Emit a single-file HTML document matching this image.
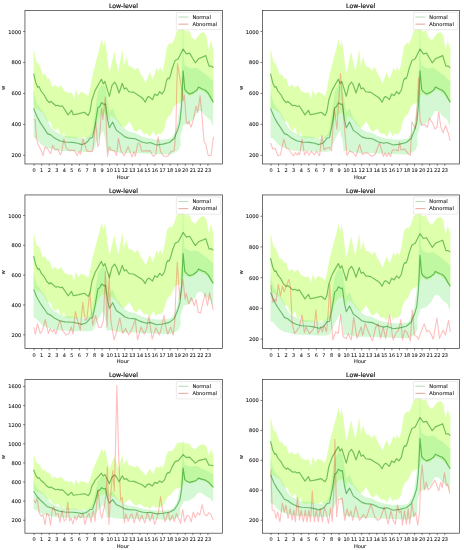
<!DOCTYPE html>
<html><head><meta charset="utf-8"><title>Low-level</title>
<style>html,body{margin:0;padding:0;background:#fff}svg{display:block}</style></head>
<body>
<svg width="464" height="550" viewBox="0 0 464 550">
<rect width="464" height="550" fill="#fff"/>
<g>
<clipPath id="c1"><rect x="24.95" y="10.45" width="197.65" height="153.52"/></clipPath>
<g clip-path="url(#c1)">
<path d="M33.6 48.4 L36.5 62.0 L39.0 64.0 L39.7 66.0 L43.0 75.0 L44.9 73.9 L47.5 78.8 L49.4 78.2 L52.0 87.2 L54.6 84.6 L57.8 87.8 L61.0 85.0 L64.3 91.0 L68.8 93.0 L72.0 92.4 L74.0 99.5 L75.9 89.8 L78.5 95.6 L81.0 91.7 L85.6 93.7 L88.2 96.2 L90.0 89.0 L92.6 74.9 L96.5 59.4 L99.7 47.8 L101.6 39.0 L103.6 46.5 L104.9 39.5 L106.8 52.9 L109.4 73.6 L112.0 62.0 L114.3 51.6 L116.5 63.3 L118.4 71.7 L121.0 56.8 L122.3 48.4 L123.9 65.9 L126.2 56.8 L128.8 66.5 L131.4 66.5 L135.3 70.4 L137.6 66.9 L140.7 73.8 L143.4 78.5 L145.7 83.2 L147.6 77.7 L149.8 71.9 L152.7 79.7 L154.6 73.8 L156.6 67.6 L158.5 71.5 L160.2 66.9 L162.4 71.5 L163.9 65.3 L165.4 56.8 L167.0 46.9 L169.5 42.8 L171.9 43.7 L174.4 38.7 L176.9 30.6 L180.1 29.7 L182.9 28.5 L185.9 31.4 L189.1 30.6 L191.6 37.1 L194.9 40.4 L197.3 37.1 L200.6 33.0 L203.9 32.2 L206.3 35.5 L208.8 50.2 L210.8 40.4 L212.9 48.6 L213.5 47.0 L213.4 104.0 L211.4 101.0 L208.2 95.5 L203.3 91.5 L198.5 89.5 L193.6 94.5 L189.6 96.0 L186.4 94.0 L184.8 92.0 L182.5 100.0 L179.9 103.0 L176.7 103.7 L174.2 106.2 L171.0 114.2 L168.6 115.9 L166.2 120.7 L163.7 130.4 L160.5 134.4 L158.1 133.6 L155.7 136.0 L153.2 130.4 L150.0 136.9 L146.9 133.4 L144.3 134.3 L139.8 128.4 L136.6 131.7 L134.0 130.4 L129.4 121.3 L125.6 126.5 L123.6 127.8 L119.7 124.6 L115.9 119.4 L110.7 115.5 L109.4 122.0 L107.5 117.0 L105.0 113.0 L101.6 114.0 L97.8 120.0 L95.2 128.0 L92.6 135.0 L90.0 136.2 L86.9 138.8 L83.7 136.6 L81.7 138.8 L79.1 137.5 L74.6 138.8 L72.7 137.5 L68.8 138.8 L64.9 136.9 L63.9 131.0 L63.0 134.9 L60.4 134.3 L57.8 127.2 L55.9 131.0 L52.6 127.8 L50.7 122.0 L46.8 120.7 L42.9 112.9 L36.5 109.0 L33.6 108.0Z" fill="#adff2f" fill-opacity="0.4"/>
<path d="M33.6 90.0 L35.0 97.0 L37.1 104.0 L40.3 108.0 L44.2 113.0 L47.5 120.0 L50.7 127.0 L54.6 131.0 L59.7 134.0 L64.9 136.0 L72.7 136.5 L77.8 137.5 L81.7 138.5 L85.6 138.5 L90.0 135.0 L92.6 130.0 L95.2 110.0 L97.8 92.0 L99.7 88.0 L101.6 85.0 L104.2 86.0 L105.5 87.0 L107.5 100.0 L109.4 112.0 L112.6 108.0 L116.5 118.0 L121.0 124.0 L124.9 129.0 L128.8 131.5 L135.3 133.0 L141.7 136.5 L146.9 138.0 L150.0 138.5 L156.5 139.5 L162.9 139.5 L166.2 139.3 L171.0 138.5 L174.2 133.6 L176.7 127.2 L179.1 111.0 L180.7 98.0 L182.2 60.0 L183.0 17.5 L183.9 60.0 L184.8 65.3 L190.4 68.5 L196.9 67.7 L201.7 71.7 L206.6 75.0 L213.4 81.4 L213.1 126.5 L210.4 120.0 L205.5 115.9 L201.4 110.9 L198.1 110.9 L194.1 118.3 L189.2 123.3 L183.5 125.0 L180.2 136.5 L180.7 145.0 L178.3 150.6 L174.2 153.0 L171.0 154.5 L160.0 154.3 L150.0 153.7 L141.7 153.5 L135.3 153.0 L128.8 153.0 L122.3 153.3 L115.9 152.0 L109.4 150.5 L106.8 151.7 L105.5 140.0 L102.9 130.4 L97.8 140.0 L93.2 150.4 L92.6 151.0 L90.0 151.7 L81.7 151.7 L75.3 151.6 L68.8 151.3 L62.3 151.0 L55.9 150.4 L51.3 149.0 L46.8 147.8 L42.9 145.9 L39.7 142.7 L36.5 138.8 L33.6 137.5Z" fill="#90ee90" fill-opacity="0.4"/>
<path d="M33.6 73.6 L35.8 82.7 L37.8 87.2 L39.0 86.5 L41.0 91.0 L44.2 95.0 L46.8 100.0 L49.4 102.6 L50.7 101.3 L55.9 105.8 L57.8 105.2 L60.4 106.5 L62.3 105.8 L68.1 114.9 L71.6 110.3 L73.3 114.8 L79.1 113.6 L84.3 112.3 L88.2 115.5 L90.0 111.6 L91.9 100.0 L95.2 90.4 L99.1 83.3 L101.4 79.2 L103.3 84.0 L104.9 81.4 L109.4 96.3 L112.0 85.3 L114.6 82.0 L116.5 85.3 L119.1 93.0 L122.3 83.3 L124.3 89.1 L126.2 87.8 L128.8 91.7 L134.0 92.4 L137.8 95.0 L141.7 97.5 L143.5 99.5 L145.2 102.2 L147.0 98.0 L148.5 96.5 L150.0 97.3 L152.4 99.7 L154.8 94.0 L157.3 95.7 L159.7 91.6 L162.1 94.0 L164.5 90.0 L166.6 80.5 L168.0 78.1 L169.0 78.9 L170.5 75.4 L172.0 69.2 L175.1 60.4 L178.3 58.8 L183.1 49.1 L186.4 53.9 L189.6 53.1 L195.3 62.8 L198.5 58.8 L205.8 55.6 L209.0 66.1 L211.4 66.1 L213.4 67.7" fill="none" stroke="#008000" stroke-opacity="0.5" stroke-width="1.15" stroke-linejoin="round"/>
<path d="M33.6 108.4 L37.1 116.8 L40.3 122.6 L44.2 128.4 L47.5 133.6 L50.7 134.9 L54.6 138.1 L59.7 140.7 L64.9 142.0 L72.7 142.4 L77.8 143.3 L81.7 144.6 L85.6 143.3 L88.0 141.0 L90.0 138.1 L92.6 137.5 L95.2 124.6 L97.8 107.8 L99.7 106.5 L101.6 102.6 L104.2 104.5 L105.5 103.9 L107.5 119.4 L109.4 127.8 L112.6 122.0 L116.5 130.4 L121.0 133.6 L124.9 136.9 L128.8 138.1 L135.3 138.8 L141.7 142.0 L146.9 143.3 L150.0 142.5 L156.5 145.0 L162.9 144.1 L169.4 142.5 L174.2 138.5 L177.5 130.4 L179.9 122.3 L181.5 106.2 L182.3 90.0 L183.1 70.9 L184.8 89.5 L186.4 91.6 L189.6 94.0 L193.6 92.4 L196.9 90.0 L198.5 87.1 L203.3 89.5 L205.0 90.0 L208.2 93.2 L211.4 98.9 L213.4 102.1" fill="none" stroke="#008000" stroke-opacity="0.5" stroke-width="1.15" stroke-linejoin="round"/>
<path d="M33.6 119.4 L35.2 120.0 L36.5 138.8 L38.4 145.3 L41.0 149.8 L42.9 155.6 L44.9 147.2 L46.8 147.8 L50.7 153.7 L52.6 145.3 L55.2 149.8 L57.8 149.1 L60.4 155.0 L61.7 151.7 L63.9 138.8 L66.2 147.8 L68.8 150.4 L74.6 150.4 L77.2 155.6 L79.1 151.1 L80.4 154.3 L82.8 138.8 L85.0 145.3 L86.9 151.1 L90.0 151.7 L92.6 151.1 L95.8 122.0 L97.8 146.6 L99.1 144.0 L101.6 108.4 L102.9 119.4 L105.3 97.0 L107.5 156.3 L109.4 146.6 L110.7 149.8 L114.6 151.0 L116.5 155.6 L118.4 138.1 L121.0 151.0 L124.3 155.6 L128.1 146.6 L132.0 156.9 L134.0 151.7 L135.3 156.3 L137.8 143.3 L139.8 144.0 L141.7 151.0 L150.0 150.6 L153.2 156.3 L155.7 154.6 L158.1 136.9 L160.5 151.4 L163.7 156.3 L167.8 156.3 L170.2 152.2 L174.2 150.6 L175.9 130.4 L176.7 90.0 L177.5 63.6 L182.3 93.2 L183.1 101.3 L184.3 94.8 L186.4 122.3 L188.0 124.0 L188.8 121.5 L191.2 127.2 L193.6 118.3 L196.1 106.2 L197.7 112.6 L200.1 95.7 L201.7 112.6 L204.1 141.7 L205.8 144.1 L208.2 155.5 L211.1 155.5 L213.4 136.9" fill="none" stroke="#ff0000" stroke-opacity="0.25" stroke-width="1.1" stroke-linejoin="round"/>
</g>
<rect x="24.95" y="10.45" width="197.65" height="153.52" fill="none" stroke="#333" stroke-width="0.7"/>
<line x1="34.10" x2="34.10" y1="163.97" y2="165.87" stroke="#222" stroke-width="0.55"/>
<text x="34.10" y="172.07" font-size="4.95" text-anchor="middle" fill="#1a1a1a" stroke="#1a1a1a" stroke-width="0.08" font-family="DejaVu Sans, Liberation Sans, sans-serif">0</text>
<line x1="41.66" x2="41.66" y1="163.97" y2="165.87" stroke="#222" stroke-width="0.55"/>
<text x="41.66" y="172.07" font-size="4.95" text-anchor="middle" fill="#1a1a1a" stroke="#1a1a1a" stroke-width="0.08" font-family="DejaVu Sans, Liberation Sans, sans-serif">1</text>
<line x1="49.21" x2="49.21" y1="163.97" y2="165.87" stroke="#222" stroke-width="0.55"/>
<text x="49.21" y="172.07" font-size="4.95" text-anchor="middle" fill="#1a1a1a" stroke="#1a1a1a" stroke-width="0.08" font-family="DejaVu Sans, Liberation Sans, sans-serif">2</text>
<line x1="56.77" x2="56.77" y1="163.97" y2="165.87" stroke="#222" stroke-width="0.55"/>
<text x="56.77" y="172.07" font-size="4.95" text-anchor="middle" fill="#1a1a1a" stroke="#1a1a1a" stroke-width="0.08" font-family="DejaVu Sans, Liberation Sans, sans-serif">3</text>
<line x1="64.33" x2="64.33" y1="163.97" y2="165.87" stroke="#222" stroke-width="0.55"/>
<text x="64.33" y="172.07" font-size="4.95" text-anchor="middle" fill="#1a1a1a" stroke="#1a1a1a" stroke-width="0.08" font-family="DejaVu Sans, Liberation Sans, sans-serif">4</text>
<line x1="71.89" x2="71.89" y1="163.97" y2="165.87" stroke="#222" stroke-width="0.55"/>
<text x="71.89" y="172.07" font-size="4.95" text-anchor="middle" fill="#1a1a1a" stroke="#1a1a1a" stroke-width="0.08" font-family="DejaVu Sans, Liberation Sans, sans-serif">5</text>
<line x1="79.44" x2="79.44" y1="163.97" y2="165.87" stroke="#222" stroke-width="0.55"/>
<text x="79.44" y="172.07" font-size="4.95" text-anchor="middle" fill="#1a1a1a" stroke="#1a1a1a" stroke-width="0.08" font-family="DejaVu Sans, Liberation Sans, sans-serif">6</text>
<line x1="87.00" x2="87.00" y1="163.97" y2="165.87" stroke="#222" stroke-width="0.55"/>
<text x="87.00" y="172.07" font-size="4.95" text-anchor="middle" fill="#1a1a1a" stroke="#1a1a1a" stroke-width="0.08" font-family="DejaVu Sans, Liberation Sans, sans-serif">7</text>
<line x1="94.56" x2="94.56" y1="163.97" y2="165.87" stroke="#222" stroke-width="0.55"/>
<text x="94.56" y="172.07" font-size="4.95" text-anchor="middle" fill="#1a1a1a" stroke="#1a1a1a" stroke-width="0.08" font-family="DejaVu Sans, Liberation Sans, sans-serif">8</text>
<line x1="102.11" x2="102.11" y1="163.97" y2="165.87" stroke="#222" stroke-width="0.55"/>
<text x="102.11" y="172.07" font-size="4.95" text-anchor="middle" fill="#1a1a1a" stroke="#1a1a1a" stroke-width="0.08" font-family="DejaVu Sans, Liberation Sans, sans-serif">9</text>
<line x1="109.67" x2="109.67" y1="163.97" y2="165.87" stroke="#222" stroke-width="0.55"/>
<text x="109.67" y="172.07" font-size="4.95" text-anchor="middle" fill="#1a1a1a" stroke="#1a1a1a" stroke-width="0.08" font-family="DejaVu Sans, Liberation Sans, sans-serif">10</text>
<line x1="117.23" x2="117.23" y1="163.97" y2="165.87" stroke="#222" stroke-width="0.55"/>
<text x="117.23" y="172.07" font-size="4.95" text-anchor="middle" fill="#1a1a1a" stroke="#1a1a1a" stroke-width="0.08" font-family="DejaVu Sans, Liberation Sans, sans-serif">11</text>
<line x1="124.78" x2="124.78" y1="163.97" y2="165.87" stroke="#222" stroke-width="0.55"/>
<text x="124.78" y="172.07" font-size="4.95" text-anchor="middle" fill="#1a1a1a" stroke="#1a1a1a" stroke-width="0.08" font-family="DejaVu Sans, Liberation Sans, sans-serif">12</text>
<line x1="132.34" x2="132.34" y1="163.97" y2="165.87" stroke="#222" stroke-width="0.55"/>
<text x="132.34" y="172.07" font-size="4.95" text-anchor="middle" fill="#1a1a1a" stroke="#1a1a1a" stroke-width="0.08" font-family="DejaVu Sans, Liberation Sans, sans-serif">13</text>
<line x1="139.90" x2="139.90" y1="163.97" y2="165.87" stroke="#222" stroke-width="0.55"/>
<text x="139.90" y="172.07" font-size="4.95" text-anchor="middle" fill="#1a1a1a" stroke="#1a1a1a" stroke-width="0.08" font-family="DejaVu Sans, Liberation Sans, sans-serif">14</text>
<line x1="147.46" x2="147.46" y1="163.97" y2="165.87" stroke="#222" stroke-width="0.55"/>
<text x="147.46" y="172.07" font-size="4.95" text-anchor="middle" fill="#1a1a1a" stroke="#1a1a1a" stroke-width="0.08" font-family="DejaVu Sans, Liberation Sans, sans-serif">15</text>
<line x1="155.01" x2="155.01" y1="163.97" y2="165.87" stroke="#222" stroke-width="0.55"/>
<text x="155.01" y="172.07" font-size="4.95" text-anchor="middle" fill="#1a1a1a" stroke="#1a1a1a" stroke-width="0.08" font-family="DejaVu Sans, Liberation Sans, sans-serif">16</text>
<line x1="162.57" x2="162.57" y1="163.97" y2="165.87" stroke="#222" stroke-width="0.55"/>
<text x="162.57" y="172.07" font-size="4.95" text-anchor="middle" fill="#1a1a1a" stroke="#1a1a1a" stroke-width="0.08" font-family="DejaVu Sans, Liberation Sans, sans-serif">17</text>
<line x1="170.13" x2="170.13" y1="163.97" y2="165.87" stroke="#222" stroke-width="0.55"/>
<text x="170.13" y="172.07" font-size="4.95" text-anchor="middle" fill="#1a1a1a" stroke="#1a1a1a" stroke-width="0.08" font-family="DejaVu Sans, Liberation Sans, sans-serif">18</text>
<line x1="177.68" x2="177.68" y1="163.97" y2="165.87" stroke="#222" stroke-width="0.55"/>
<text x="177.68" y="172.07" font-size="4.95" text-anchor="middle" fill="#1a1a1a" stroke="#1a1a1a" stroke-width="0.08" font-family="DejaVu Sans, Liberation Sans, sans-serif">19</text>
<line x1="185.24" x2="185.24" y1="163.97" y2="165.87" stroke="#222" stroke-width="0.55"/>
<text x="185.24" y="172.07" font-size="4.95" text-anchor="middle" fill="#1a1a1a" stroke="#1a1a1a" stroke-width="0.08" font-family="DejaVu Sans, Liberation Sans, sans-serif">20</text>
<line x1="192.80" x2="192.80" y1="163.97" y2="165.87" stroke="#222" stroke-width="0.55"/>
<text x="192.80" y="172.07" font-size="4.95" text-anchor="middle" fill="#1a1a1a" stroke="#1a1a1a" stroke-width="0.08" font-family="DejaVu Sans, Liberation Sans, sans-serif">21</text>
<line x1="200.35" x2="200.35" y1="163.97" y2="165.87" stroke="#222" stroke-width="0.55"/>
<text x="200.35" y="172.07" font-size="4.95" text-anchor="middle" fill="#1a1a1a" stroke="#1a1a1a" stroke-width="0.08" font-family="DejaVu Sans, Liberation Sans, sans-serif">22</text>
<line x1="207.91" x2="207.91" y1="163.97" y2="165.87" stroke="#222" stroke-width="0.55"/>
<text x="207.91" y="172.07" font-size="4.95" text-anchor="middle" fill="#1a1a1a" stroke="#1a1a1a" stroke-width="0.08" font-family="DejaVu Sans, Liberation Sans, sans-serif">23</text>
<line x1="23.05" x2="24.95" y1="155.35" y2="155.35" stroke="#222" stroke-width="0.55"/>
<text x="21.25" y="157.35" font-size="5.1" text-anchor="end" fill="#1a1a1a" stroke="#1a1a1a" stroke-width="0.1" font-family="DejaVu Sans, Liberation Sans, sans-serif">200</text>
<line x1="23.05" x2="24.95" y1="124.39" y2="124.39" stroke="#222" stroke-width="0.55"/>
<text x="21.25" y="126.39" font-size="5.1" text-anchor="end" fill="#1a1a1a" stroke="#1a1a1a" stroke-width="0.1" font-family="DejaVu Sans, Liberation Sans, sans-serif">400</text>
<line x1="23.05" x2="24.95" y1="93.43" y2="93.43" stroke="#222" stroke-width="0.55"/>
<text x="21.25" y="95.43" font-size="5.1" text-anchor="end" fill="#1a1a1a" stroke="#1a1a1a" stroke-width="0.1" font-family="DejaVu Sans, Liberation Sans, sans-serif">600</text>
<line x1="23.05" x2="24.95" y1="62.46" y2="62.46" stroke="#222" stroke-width="0.55"/>
<text x="21.25" y="64.46" font-size="5.1" text-anchor="end" fill="#1a1a1a" stroke="#1a1a1a" stroke-width="0.1" font-family="DejaVu Sans, Liberation Sans, sans-serif">800</text>
<line x1="23.05" x2="24.95" y1="31.50" y2="31.50" stroke="#222" stroke-width="0.55"/>
<text x="21.25" y="33.50" font-size="5.1" text-anchor="end" fill="#1a1a1a" stroke="#1a1a1a" stroke-width="0.1" font-family="DejaVu Sans, Liberation Sans, sans-serif">1000</text>
<text x="123.475" y="8.149999999999999" font-size="6.2" text-anchor="middle" fill="#1a1a1a" stroke="#1a1a1a" stroke-width="0.2" font-family="DejaVu Sans, Liberation Sans, sans-serif">Low-level</text>
<text x="122.87499999999999" y="178.87" font-size="5.1" text-anchor="middle" fill="#1a1a1a" stroke="#1a1a1a" stroke-width="0.1" font-family="DejaVu Sans, Liberation Sans, sans-serif">Hour</text>
<text transform="translate(5.149999999999999,87.91) rotate(-90)" font-size="5.1" text-anchor="middle" fill="#1a1a1a" stroke="#1a1a1a" stroke-width="0.1" font-family="DejaVu Sans, Liberation Sans, sans-serif">w</text>
<rect x="176.39999999999998" y="12.35" width="44.5" height="17.3" rx="1" fill="#fff" fill-opacity="0.8" stroke="#ccc" stroke-width="0.4"/>
<line x1="178.39999999999998" x2="188.39999999999998" y1="17.05" y2="17.05" stroke="#008000" stroke-opacity="0.32" stroke-width="0.9"/>
<line x1="178.39999999999998" x2="188.39999999999998" y1="24.15" y2="24.15" stroke="#c43c28" stroke-opacity="0.5" stroke-width="0.9"/>
<text x="192.39999999999998" y="18.75" font-size="5.1" fill="#1a1a1a" stroke="#1a1a1a" stroke-width="0.1" font-family="DejaVu Sans, Liberation Sans, sans-serif">Normal</text>
<text x="192.39999999999998" y="25.95" font-size="5.1" fill="#1a1a1a" stroke="#1a1a1a" stroke-width="0.1" font-family="DejaVu Sans, Liberation Sans, sans-serif">Abnormal</text>
</g>
<g>
<clipPath id="c2"><rect x="262.35" y="10.45" width="197.2" height="153.52"/></clipPath>
<g clip-path="url(#c2)">
<path d="M270.5 48.4 L273.4 62.0 L275.9 64.0 L276.6 66.0 L279.9 75.0 L281.8 73.9 L284.4 78.8 L286.3 78.2 L288.9 87.2 L291.5 84.6 L294.7 87.8 L297.9 85.0 L301.2 91.0 L305.7 93.0 L308.9 92.4 L310.9 99.5 L312.8 89.8 L315.4 95.6 L317.9 91.7 L322.5 93.7 L325.1 96.2 L326.9 89.0 L329.5 74.9 L333.4 59.4 L336.6 47.8 L338.5 39.0 L340.5 46.5 L341.8 39.5 L343.7 52.9 L346.3 73.6 L348.9 62.0 L351.2 51.6 L353.4 63.3 L355.3 71.7 L357.9 56.8 L359.2 48.4 L360.8 65.9 L363.1 56.8 L365.7 66.5 L368.3 66.5 L372.2 70.4 L374.5 66.9 L377.6 73.8 L380.3 78.5 L382.6 83.2 L384.5 77.7 L386.7 71.9 L389.6 79.7 L391.5 73.8 L393.5 67.6 L395.4 71.5 L397.1 66.9 L399.3 71.5 L400.8 65.3 L402.3 56.8 L403.9 46.9 L406.4 42.8 L408.8 43.7 L411.3 38.7 L413.8 30.6 L417.0 29.7 L419.8 28.5 L422.8 31.4 L426.0 30.6 L428.5 37.1 L431.8 40.4 L434.2 37.1 L437.5 33.0 L440.8 32.2 L443.2 35.5 L445.7 50.2 L447.7 40.4 L449.8 48.6 L450.4 47.0 L450.3 104.0 L448.3 101.0 L445.1 95.5 L440.2 91.5 L435.4 89.5 L430.5 94.5 L426.5 96.0 L423.3 94.0 L421.7 92.0 L419.4 100.0 L416.8 103.0 L413.6 103.7 L411.1 106.2 L407.9 114.2 L405.5 115.9 L403.1 120.7 L400.6 130.4 L397.4 134.4 L395.0 133.6 L392.6 136.0 L390.1 130.4 L386.9 136.9 L383.8 133.4 L381.2 134.3 L376.7 128.4 L373.5 131.7 L370.9 130.4 L366.3 121.3 L362.5 126.5 L360.5 127.8 L356.6 124.6 L352.8 119.4 L347.6 115.5 L346.3 122.0 L344.4 117.0 L341.9 113.0 L338.5 114.0 L334.7 120.0 L332.1 128.0 L329.5 135.0 L326.9 136.2 L323.8 138.8 L320.6 136.6 L318.6 138.8 L316.0 137.5 L311.5 138.8 L309.6 137.5 L305.7 138.8 L301.8 136.9 L300.8 131.0 L299.9 134.9 L297.3 134.3 L294.7 127.2 L292.8 131.0 L289.5 127.8 L287.6 122.0 L283.7 120.7 L279.8 112.9 L273.4 109.0 L270.5 108.0Z" fill="#adff2f" fill-opacity="0.4"/>
<path d="M270.5 90.0 L271.9 97.0 L274.0 104.0 L277.2 108.0 L281.1 113.0 L284.4 120.0 L287.6 127.0 L291.5 131.0 L296.6 134.0 L301.8 136.0 L309.6 136.5 L314.7 137.5 L318.6 138.5 L322.5 138.5 L326.9 135.0 L329.5 130.0 L332.1 110.0 L334.7 92.0 L336.6 88.0 L338.5 85.0 L341.1 86.0 L342.4 87.0 L344.4 100.0 L346.3 112.0 L349.5 108.0 L353.4 118.0 L357.9 124.0 L361.8 129.0 L365.7 131.5 L372.2 133.0 L378.6 136.5 L383.8 138.0 L386.9 138.5 L393.4 139.5 L399.8 139.5 L403.1 139.3 L407.9 138.5 L411.1 133.6 L413.6 127.2 L416.0 111.0 L417.6 98.0 L419.1 60.0 L419.9 17.5 L420.8 60.0 L421.7 65.3 L427.3 68.5 L433.8 67.7 L438.6 71.7 L443.5 75.0 L450.3 81.4 L450.0 126.5 L447.3 120.0 L442.4 115.9 L438.3 110.9 L435.0 110.9 L431.0 118.3 L426.1 123.3 L420.4 125.0 L417.1 136.5 L417.6 145.0 L415.2 150.6 L411.1 153.0 L407.9 154.5 L396.9 154.3 L386.9 153.7 L378.6 153.5 L372.2 153.0 L365.7 153.0 L359.2 153.3 L352.8 152.0 L346.3 150.5 L343.7 151.7 L342.4 140.0 L339.8 130.4 L334.7 140.0 L330.1 150.4 L329.5 151.0 L326.9 151.7 L318.6 151.7 L312.2 151.6 L305.7 151.3 L299.2 151.0 L292.8 150.4 L288.2 149.0 L283.7 147.8 L279.8 145.9 L276.6 142.7 L273.4 138.8 L270.5 137.5Z" fill="#90ee90" fill-opacity="0.4"/>
<path d="M270.5 73.6 L272.7 82.7 L274.7 87.2 L275.9 86.5 L277.9 91.0 L281.1 95.0 L283.7 100.0 L286.3 102.6 L287.6 101.3 L292.8 105.8 L294.7 105.2 L297.3 106.5 L299.2 105.8 L305.0 114.9 L308.5 110.3 L310.2 114.8 L316.0 113.6 L321.2 112.3 L325.1 115.5 L326.9 111.6 L328.8 100.0 L332.1 90.4 L336.0 83.3 L338.3 79.2 L340.2 84.0 L341.8 81.4 L346.3 96.3 L348.9 85.3 L351.5 82.0 L353.4 85.3 L356.0 93.0 L359.2 83.3 L361.2 89.1 L363.1 87.8 L365.7 91.7 L370.9 92.4 L374.7 95.0 L378.6 97.5 L380.4 99.5 L382.1 102.2 L383.9 98.0 L385.4 96.5 L386.9 97.3 L389.3 99.7 L391.7 94.0 L394.2 95.7 L396.6 91.6 L399.0 94.0 L401.4 90.0 L403.5 80.5 L404.9 78.1 L405.9 78.9 L407.4 75.4 L408.9 69.2 L412.0 60.4 L415.2 58.8 L420.0 49.1 L423.3 53.9 L426.5 53.1 L432.2 62.8 L435.4 58.8 L442.7 55.6 L445.9 66.1 L448.3 66.1 L450.3 67.7" fill="none" stroke="#008000" stroke-opacity="0.5" stroke-width="1.15" stroke-linejoin="round"/>
<path d="M270.5 108.4 L274.0 116.8 L277.2 122.6 L281.1 128.4 L284.4 133.6 L287.6 134.9 L291.5 138.1 L296.6 140.7 L301.8 142.0 L309.6 142.4 L314.7 143.3 L318.6 144.6 L322.5 143.3 L324.9 141.0 L326.9 138.1 L329.5 137.5 L332.1 124.6 L334.7 107.8 L336.6 106.5 L338.5 102.6 L341.1 104.5 L342.4 103.9 L344.4 119.4 L346.3 127.8 L349.5 122.0 L353.4 130.4 L357.9 133.6 L361.8 136.9 L365.7 138.1 L372.2 138.8 L378.6 142.0 L383.8 143.3 L386.9 142.5 L393.4 145.0 L399.8 144.1 L406.3 142.5 L411.1 138.5 L414.4 130.4 L416.8 122.3 L418.4 106.2 L419.2 90.0 L420.0 70.9 L421.7 89.5 L423.3 91.6 L426.5 94.0 L430.5 92.4 L433.8 90.0 L435.4 87.1 L440.2 89.5 L441.9 90.0 L445.1 93.2 L448.3 98.9 L450.3 102.1" fill="none" stroke="#008000" stroke-opacity="0.5" stroke-width="1.15" stroke-linejoin="round"/>
<path d="M270.5 143.0 L272.8 149.0 L275.0 148.3 L278.0 155.8 L280.3 155.0 L283.8 139.2 L286.4 148.3 L288.6 149.0 L293.2 155.8 L295.4 152.8 L296.9 155.0 L298.4 152.8 L299.6 155.0 L302.2 139.2 L304.5 155.0 L306.7 151.3 L309.0 155.0 L311.3 151.3 L314.3 155.0 L316.5 151.3 L319.6 155.8 L321.8 135.4 L324.1 149.8 L326.3 148.3 L329.6 147.3 L331.5 150.9 L334.2 108.2 L336.9 129.1 L340.5 73.6 L344.2 123.6 L346.9 155.5 L349.6 150.9 L353.3 152.7 L356.0 156.4 L359.6 144.5 L362.4 154.5 L365.1 152.7 L368.7 153.6 L371.5 156.4 L375.1 154.5 L379.6 142.7 L383.3 156.4 L385.1 152.7 L386.9 156.4 L388.7 152.7 L390.5 156.4 L392.4 150.0 L396.4 150.0 L398.2 150.9 L399.5 141.8 L400.9 150.0 L404.5 149.1 L408.2 153.6 L410.4 155.5 L411.8 121.8 L415.5 129.1 L417.3 105.5 L418.5 77.5 L420.0 120.0 L421.8 125.5 L424.5 124.5 L427.3 127.3 L429.6 118.2 L432.7 123.6 L435.1 129.1 L436.9 127.3 L438.7 111.8 L440.9 127.3 L443.1 132.7 L445.5 125.5 L448.2 132.7 L450.0 140.9" fill="none" stroke="#ff0000" stroke-opacity="0.25" stroke-width="1.1" stroke-linejoin="round"/>
</g>
<rect x="262.35" y="10.45" width="197.2" height="153.52" fill="none" stroke="#333" stroke-width="0.7"/>
<line x1="271.00" x2="271.00" y1="163.97" y2="165.87" stroke="#222" stroke-width="0.55"/>
<text x="271.00" y="172.07" font-size="4.95" text-anchor="middle" fill="#1a1a1a" stroke="#1a1a1a" stroke-width="0.08" font-family="DejaVu Sans, Liberation Sans, sans-serif">0</text>
<line x1="278.56" x2="278.56" y1="163.97" y2="165.87" stroke="#222" stroke-width="0.55"/>
<text x="278.56" y="172.07" font-size="4.95" text-anchor="middle" fill="#1a1a1a" stroke="#1a1a1a" stroke-width="0.08" font-family="DejaVu Sans, Liberation Sans, sans-serif">1</text>
<line x1="286.11" x2="286.11" y1="163.97" y2="165.87" stroke="#222" stroke-width="0.55"/>
<text x="286.11" y="172.07" font-size="4.95" text-anchor="middle" fill="#1a1a1a" stroke="#1a1a1a" stroke-width="0.08" font-family="DejaVu Sans, Liberation Sans, sans-serif">2</text>
<line x1="293.67" x2="293.67" y1="163.97" y2="165.87" stroke="#222" stroke-width="0.55"/>
<text x="293.67" y="172.07" font-size="4.95" text-anchor="middle" fill="#1a1a1a" stroke="#1a1a1a" stroke-width="0.08" font-family="DejaVu Sans, Liberation Sans, sans-serif">3</text>
<line x1="301.23" x2="301.23" y1="163.97" y2="165.87" stroke="#222" stroke-width="0.55"/>
<text x="301.23" y="172.07" font-size="4.95" text-anchor="middle" fill="#1a1a1a" stroke="#1a1a1a" stroke-width="0.08" font-family="DejaVu Sans, Liberation Sans, sans-serif">4</text>
<line x1="308.79" x2="308.79" y1="163.97" y2="165.87" stroke="#222" stroke-width="0.55"/>
<text x="308.79" y="172.07" font-size="4.95" text-anchor="middle" fill="#1a1a1a" stroke="#1a1a1a" stroke-width="0.08" font-family="DejaVu Sans, Liberation Sans, sans-serif">5</text>
<line x1="316.34" x2="316.34" y1="163.97" y2="165.87" stroke="#222" stroke-width="0.55"/>
<text x="316.34" y="172.07" font-size="4.95" text-anchor="middle" fill="#1a1a1a" stroke="#1a1a1a" stroke-width="0.08" font-family="DejaVu Sans, Liberation Sans, sans-serif">6</text>
<line x1="323.90" x2="323.90" y1="163.97" y2="165.87" stroke="#222" stroke-width="0.55"/>
<text x="323.90" y="172.07" font-size="4.95" text-anchor="middle" fill="#1a1a1a" stroke="#1a1a1a" stroke-width="0.08" font-family="DejaVu Sans, Liberation Sans, sans-serif">7</text>
<line x1="331.46" x2="331.46" y1="163.97" y2="165.87" stroke="#222" stroke-width="0.55"/>
<text x="331.46" y="172.07" font-size="4.95" text-anchor="middle" fill="#1a1a1a" stroke="#1a1a1a" stroke-width="0.08" font-family="DejaVu Sans, Liberation Sans, sans-serif">8</text>
<line x1="339.01" x2="339.01" y1="163.97" y2="165.87" stroke="#222" stroke-width="0.55"/>
<text x="339.01" y="172.07" font-size="4.95" text-anchor="middle" fill="#1a1a1a" stroke="#1a1a1a" stroke-width="0.08" font-family="DejaVu Sans, Liberation Sans, sans-serif">9</text>
<line x1="346.57" x2="346.57" y1="163.97" y2="165.87" stroke="#222" stroke-width="0.55"/>
<text x="346.57" y="172.07" font-size="4.95" text-anchor="middle" fill="#1a1a1a" stroke="#1a1a1a" stroke-width="0.08" font-family="DejaVu Sans, Liberation Sans, sans-serif">10</text>
<line x1="354.13" x2="354.13" y1="163.97" y2="165.87" stroke="#222" stroke-width="0.55"/>
<text x="354.13" y="172.07" font-size="4.95" text-anchor="middle" fill="#1a1a1a" stroke="#1a1a1a" stroke-width="0.08" font-family="DejaVu Sans, Liberation Sans, sans-serif">11</text>
<line x1="361.68" x2="361.68" y1="163.97" y2="165.87" stroke="#222" stroke-width="0.55"/>
<text x="361.68" y="172.07" font-size="4.95" text-anchor="middle" fill="#1a1a1a" stroke="#1a1a1a" stroke-width="0.08" font-family="DejaVu Sans, Liberation Sans, sans-serif">12</text>
<line x1="369.24" x2="369.24" y1="163.97" y2="165.87" stroke="#222" stroke-width="0.55"/>
<text x="369.24" y="172.07" font-size="4.95" text-anchor="middle" fill="#1a1a1a" stroke="#1a1a1a" stroke-width="0.08" font-family="DejaVu Sans, Liberation Sans, sans-serif">13</text>
<line x1="376.80" x2="376.80" y1="163.97" y2="165.87" stroke="#222" stroke-width="0.55"/>
<text x="376.80" y="172.07" font-size="4.95" text-anchor="middle" fill="#1a1a1a" stroke="#1a1a1a" stroke-width="0.08" font-family="DejaVu Sans, Liberation Sans, sans-serif">14</text>
<line x1="384.36" x2="384.36" y1="163.97" y2="165.87" stroke="#222" stroke-width="0.55"/>
<text x="384.36" y="172.07" font-size="4.95" text-anchor="middle" fill="#1a1a1a" stroke="#1a1a1a" stroke-width="0.08" font-family="DejaVu Sans, Liberation Sans, sans-serif">15</text>
<line x1="391.91" x2="391.91" y1="163.97" y2="165.87" stroke="#222" stroke-width="0.55"/>
<text x="391.91" y="172.07" font-size="4.95" text-anchor="middle" fill="#1a1a1a" stroke="#1a1a1a" stroke-width="0.08" font-family="DejaVu Sans, Liberation Sans, sans-serif">16</text>
<line x1="399.47" x2="399.47" y1="163.97" y2="165.87" stroke="#222" stroke-width="0.55"/>
<text x="399.47" y="172.07" font-size="4.95" text-anchor="middle" fill="#1a1a1a" stroke="#1a1a1a" stroke-width="0.08" font-family="DejaVu Sans, Liberation Sans, sans-serif">17</text>
<line x1="407.03" x2="407.03" y1="163.97" y2="165.87" stroke="#222" stroke-width="0.55"/>
<text x="407.03" y="172.07" font-size="4.95" text-anchor="middle" fill="#1a1a1a" stroke="#1a1a1a" stroke-width="0.08" font-family="DejaVu Sans, Liberation Sans, sans-serif">18</text>
<line x1="414.58" x2="414.58" y1="163.97" y2="165.87" stroke="#222" stroke-width="0.55"/>
<text x="414.58" y="172.07" font-size="4.95" text-anchor="middle" fill="#1a1a1a" stroke="#1a1a1a" stroke-width="0.08" font-family="DejaVu Sans, Liberation Sans, sans-serif">19</text>
<line x1="422.14" x2="422.14" y1="163.97" y2="165.87" stroke="#222" stroke-width="0.55"/>
<text x="422.14" y="172.07" font-size="4.95" text-anchor="middle" fill="#1a1a1a" stroke="#1a1a1a" stroke-width="0.08" font-family="DejaVu Sans, Liberation Sans, sans-serif">20</text>
<line x1="429.70" x2="429.70" y1="163.97" y2="165.87" stroke="#222" stroke-width="0.55"/>
<text x="429.70" y="172.07" font-size="4.95" text-anchor="middle" fill="#1a1a1a" stroke="#1a1a1a" stroke-width="0.08" font-family="DejaVu Sans, Liberation Sans, sans-serif">21</text>
<line x1="437.25" x2="437.25" y1="163.97" y2="165.87" stroke="#222" stroke-width="0.55"/>
<text x="437.25" y="172.07" font-size="4.95" text-anchor="middle" fill="#1a1a1a" stroke="#1a1a1a" stroke-width="0.08" font-family="DejaVu Sans, Liberation Sans, sans-serif">22</text>
<line x1="444.81" x2="444.81" y1="163.97" y2="165.87" stroke="#222" stroke-width="0.55"/>
<text x="444.81" y="172.07" font-size="4.95" text-anchor="middle" fill="#1a1a1a" stroke="#1a1a1a" stroke-width="0.08" font-family="DejaVu Sans, Liberation Sans, sans-serif">23</text>
<line x1="260.45000000000005" x2="262.35" y1="155.35" y2="155.35" stroke="#222" stroke-width="0.55"/>
<text x="258.65000000000003" y="157.35" font-size="5.1" text-anchor="end" fill="#1a1a1a" stroke="#1a1a1a" stroke-width="0.1" font-family="DejaVu Sans, Liberation Sans, sans-serif">200</text>
<line x1="260.45000000000005" x2="262.35" y1="124.39" y2="124.39" stroke="#222" stroke-width="0.55"/>
<text x="258.65000000000003" y="126.39" font-size="5.1" text-anchor="end" fill="#1a1a1a" stroke="#1a1a1a" stroke-width="0.1" font-family="DejaVu Sans, Liberation Sans, sans-serif">400</text>
<line x1="260.45000000000005" x2="262.35" y1="93.43" y2="93.43" stroke="#222" stroke-width="0.55"/>
<text x="258.65000000000003" y="95.43" font-size="5.1" text-anchor="end" fill="#1a1a1a" stroke="#1a1a1a" stroke-width="0.1" font-family="DejaVu Sans, Liberation Sans, sans-serif">600</text>
<line x1="260.45000000000005" x2="262.35" y1="62.46" y2="62.46" stroke="#222" stroke-width="0.55"/>
<text x="258.65000000000003" y="64.46" font-size="5.1" text-anchor="end" fill="#1a1a1a" stroke="#1a1a1a" stroke-width="0.1" font-family="DejaVu Sans, Liberation Sans, sans-serif">800</text>
<line x1="260.45000000000005" x2="262.35" y1="31.50" y2="31.50" stroke="#222" stroke-width="0.55"/>
<text x="258.65000000000003" y="33.50" font-size="5.1" text-anchor="end" fill="#1a1a1a" stroke="#1a1a1a" stroke-width="0.1" font-family="DejaVu Sans, Liberation Sans, sans-serif">1000</text>
<text x="360.65000000000003" y="8.149999999999999" font-size="6.2" text-anchor="middle" fill="#1a1a1a" stroke="#1a1a1a" stroke-width="0.2" font-family="DejaVu Sans, Liberation Sans, sans-serif">Low-level</text>
<text x="360.05000000000007" y="178.87" font-size="5.1" text-anchor="middle" fill="#1a1a1a" stroke="#1a1a1a" stroke-width="0.1" font-family="DejaVu Sans, Liberation Sans, sans-serif">Hour</text>
<text transform="translate(242.55,87.91) rotate(-90)" font-size="5.1" text-anchor="middle" fill="#1a1a1a" stroke="#1a1a1a" stroke-width="0.1" font-family="DejaVu Sans, Liberation Sans, sans-serif">w</text>
<rect x="413.35" y="12.35" width="44.5" height="17.3" rx="1" fill="#fff" fill-opacity="0.8" stroke="#ccc" stroke-width="0.4"/>
<line x1="415.35" x2="425.35" y1="17.05" y2="17.05" stroke="#008000" stroke-opacity="0.32" stroke-width="0.9"/>
<line x1="415.35" x2="425.35" y1="24.15" y2="24.15" stroke="#c43c28" stroke-opacity="0.5" stroke-width="0.9"/>
<text x="429.35" y="18.75" font-size="5.1" fill="#1a1a1a" stroke="#1a1a1a" stroke-width="0.1" font-family="DejaVu Sans, Liberation Sans, sans-serif">Normal</text>
<text x="429.35" y="25.95" font-size="5.1" fill="#1a1a1a" stroke="#1a1a1a" stroke-width="0.1" font-family="DejaVu Sans, Liberation Sans, sans-serif">Abnormal</text>
</g>
<g>
<clipPath id="c3"><rect x="24.95" y="194.95" width="197.65" height="153.45"/></clipPath>
<g clip-path="url(#c3)">
<path d="M33.6 231.8 L36.5 244.9 L39.0 246.8 L39.7 248.7 L43.0 257.4 L44.9 256.3 L47.5 261.1 L49.4 260.5 L52.0 269.2 L54.6 266.6 L57.8 269.7 L61.0 267.0 L64.3 272.8 L68.8 274.7 L72.0 274.2 L74.0 281.0 L75.9 271.7 L78.5 277.2 L81.0 273.5 L85.6 275.4 L88.2 277.8 L90.0 270.9 L92.6 257.3 L96.5 242.4 L99.7 231.2 L101.6 222.7 L103.6 229.9 L104.9 223.2 L106.8 236.1 L109.4 256.0 L112.0 244.9 L114.3 234.9 L116.5 246.1 L118.4 254.2 L121.0 239.9 L122.3 231.8 L123.9 248.6 L126.2 239.9 L128.8 249.2 L131.4 249.2 L135.3 253.0 L137.6 249.6 L140.7 256.2 L143.4 260.8 L145.7 265.3 L147.6 260.0 L149.8 254.4 L152.7 261.9 L154.6 256.2 L156.6 250.3 L158.5 254.0 L160.2 249.6 L162.4 254.0 L163.9 248.1 L165.4 239.9 L167.0 230.3 L169.5 226.4 L171.9 227.2 L174.4 222.4 L176.9 214.6 L180.1 213.8 L182.9 212.6 L185.9 215.4 L189.1 214.6 L191.6 220.9 L194.9 224.1 L197.3 220.9 L200.6 216.9 L203.9 216.2 L206.3 219.3 L208.8 233.5 L210.8 224.1 L212.9 232.0 L213.5 230.4 L213.4 285.3 L211.4 282.4 L208.2 277.1 L203.3 273.3 L198.5 271.4 L193.6 276.2 L189.6 277.6 L186.4 275.7 L184.8 273.8 L182.5 281.5 L179.9 284.4 L176.7 285.0 L174.2 287.5 L171.0 295.2 L168.6 296.8 L166.2 301.4 L163.7 310.8 L160.5 314.6 L158.1 313.8 L155.7 316.2 L153.2 310.8 L150.0 317.0 L146.9 313.7 L144.3 314.5 L139.8 308.8 L136.6 312.0 L134.0 310.8 L129.4 302.0 L125.6 307.0 L123.6 308.3 L119.7 305.2 L115.9 300.2 L110.7 296.4 L109.4 302.7 L107.5 297.9 L105.0 294.0 L101.6 295.0 L97.8 300.7 L95.2 308.5 L92.6 315.2 L90.0 316.4 L86.9 318.9 L83.7 316.7 L81.7 318.9 L79.1 317.6 L74.6 318.9 L72.7 317.6 L68.8 318.9 L64.9 317.0 L63.9 311.3 L63.0 315.1 L60.4 314.5 L57.8 307.7 L55.9 311.3 L52.6 308.3 L50.7 302.7 L46.8 301.4 L42.9 293.9 L36.5 290.2 L33.6 289.2Z" fill="#adff2f" fill-opacity="0.4"/>
<path d="M33.6 271.8 L35.0 278.6 L37.1 285.3 L40.3 289.2 L44.2 294.0 L47.5 300.7 L50.7 307.5 L54.6 311.3 L59.7 314.2 L64.9 316.2 L72.7 316.6 L77.8 317.6 L81.7 318.6 L85.6 318.6 L90.0 315.2 L92.6 310.4 L95.2 291.1 L97.8 273.8 L99.7 269.9 L101.6 267.0 L104.2 268.0 L105.5 269.0 L107.5 281.5 L109.4 293.0 L112.6 289.2 L116.5 298.8 L121.0 304.6 L124.9 309.4 L128.8 311.8 L135.3 313.3 L141.7 316.6 L146.9 318.1 L150.0 318.6 L156.5 319.5 L162.9 319.5 L166.2 319.3 L171.0 318.6 L174.2 313.8 L176.7 307.7 L179.1 292.1 L180.7 279.6 L182.2 242.9 L183.0 202.0 L183.9 242.9 L184.8 248.1 L190.4 251.1 L196.9 250.4 L201.7 254.2 L206.6 257.4 L213.4 263.6 L213.1 307.0 L210.4 300.7 L205.5 296.8 L201.4 292.0 L198.1 292.0 L194.1 299.1 L189.2 303.9 L183.5 305.6 L180.2 316.6 L180.7 324.8 L178.3 330.2 L174.2 332.5 L171.0 334.0 L160.0 333.8 L150.0 333.2 L141.7 333.0 L135.3 332.5 L128.8 332.5 L122.3 332.8 L115.9 331.6 L109.4 330.1 L106.8 331.3 L105.5 320.0 L102.9 310.8 L97.8 320.0 L93.2 330.0 L92.6 330.6 L90.0 331.3 L81.7 331.3 L75.3 331.2 L68.8 330.9 L62.3 330.6 L55.9 330.0 L51.3 328.7 L46.8 327.5 L42.9 325.7 L39.7 322.6 L36.5 318.9 L33.6 317.6Z" fill="#90ee90" fill-opacity="0.4"/>
<path d="M33.6 256.0 L35.8 264.8 L37.8 269.2 L39.0 268.5 L41.0 272.8 L44.2 276.7 L46.8 281.5 L49.4 284.0 L50.7 282.7 L55.9 287.1 L57.8 286.5 L60.4 287.7 L62.3 287.1 L68.1 295.8 L71.6 291.4 L73.3 295.7 L79.1 294.6 L84.3 293.3 L88.2 296.4 L90.0 292.7 L91.9 281.5 L95.2 272.2 L99.1 265.4 L101.4 261.4 L103.3 266.1 L104.9 263.6 L109.4 277.9 L112.0 267.3 L114.6 264.1 L116.5 267.3 L119.1 274.7 L122.3 265.4 L124.3 271.0 L126.2 269.7 L128.8 273.5 L134.0 274.2 L137.8 276.7 L141.7 279.1 L143.5 281.0 L145.2 283.6 L147.0 279.6 L148.5 278.1 L150.0 278.9 L152.4 281.2 L154.8 275.7 L157.3 277.3 L159.7 273.4 L162.1 275.7 L164.5 271.8 L166.6 262.7 L168.0 260.4 L169.0 261.2 L170.5 257.8 L172.0 251.8 L175.1 243.3 L178.3 241.8 L183.1 232.4 L186.4 237.1 L189.6 236.3 L195.3 245.6 L198.5 241.8 L205.8 238.7 L209.0 248.8 L211.4 248.8 L213.4 250.4" fill="none" stroke="#008000" stroke-opacity="0.5" stroke-width="1.15" stroke-linejoin="round"/>
<path d="M33.6 289.6 L37.1 297.7 L40.3 303.3 L44.2 308.8 L47.5 313.8 L50.7 315.1 L54.6 318.2 L59.7 320.7 L64.9 321.9 L72.7 322.3 L77.8 323.2 L81.7 324.4 L85.6 323.2 L88.0 321.0 L90.0 318.2 L92.6 317.6 L95.2 305.2 L97.8 289.0 L99.7 287.7 L101.6 284.0 L104.2 285.8 L105.5 285.2 L107.5 300.2 L109.4 308.3 L112.6 302.7 L116.5 310.8 L121.0 313.8 L124.9 317.0 L128.8 318.2 L135.3 318.9 L141.7 321.9 L146.9 323.2 L150.0 322.4 L156.5 324.8 L162.9 324.0 L169.4 322.4 L174.2 318.6 L177.5 310.8 L179.9 303.0 L181.5 287.5 L182.3 271.8 L183.1 253.4 L184.8 271.4 L186.4 273.4 L189.6 275.7 L193.6 274.2 L196.9 271.8 L198.5 269.1 L203.3 271.4 L205.0 271.8 L208.2 274.9 L211.4 280.4 L213.4 283.5" fill="none" stroke="#008000" stroke-opacity="0.5" stroke-width="1.15" stroke-linejoin="round"/>
<path d="M33.7 327.0 L35.4 334.3 L37.5 323.7 L40.3 333.5 L42.4 330.2 L45.2 319.6 L48.4 333.5 L50.1 328.6 L52.5 331.9 L54.2 329.4 L55.8 334.3 L58.3 325.3 L60.2 320.4 L62.3 330.2 L66.4 335.1 L68.9 333.5 L71.3 327.0 L73.0 334.3 L75.4 311.4 L77.9 322.0 L80.3 330.2 L82.8 302.4 L85.2 320.4 L86.9 318.8 L89.8 291.8 L92.6 325.3 L95.6 315.5 L98.5 327.0 L101.0 327.8 L103.4 320.4 L105.4 271.4 L107.0 327.0 L109.2 273.0 L110.8 320.4 L114.1 340.0 L116.5 331.9 L119.8 318.0 L122.7 333.5 L125.5 328.6 L128.8 335.1 L132.1 328.6 L135.3 319.6 L137.5 340.0 L141.1 327.0 L144.3 334.3 L146.8 327.8 L148.9 316.3 L152.2 339.2 L155.8 327.8 L159.3 335.1 L160.9 330.2 L163.9 315.5 L165.8 327.0 L167.8 334.3 L170.7 327.0 L173.2 335.1 L174.8 320.4 L176.0 287.7 L177.3 262.4 L178.9 287.7 L180.2 299.2 L183.0 279.5 L185.1 299.2 L186.3 293.4 L188.7 304.1 L191.2 297.5 L194.4 305.7 L196.1 299.2 L198.2 312.2 L200.5 313.1 L202.6 304.1 L205.1 293.4 L207.5 305.7 L209.6 292.6 L213.2 309.8" fill="none" stroke="#ff0000" stroke-opacity="0.25" stroke-width="1.1" stroke-linejoin="round"/>
</g>
<rect x="24.95" y="194.95" width="197.65" height="153.45" fill="none" stroke="#333" stroke-width="0.7"/>
<line x1="34.10" x2="34.10" y1="348.4" y2="350.29999999999995" stroke="#222" stroke-width="0.55"/>
<text x="34.10" y="356.5" font-size="4.95" text-anchor="middle" fill="#1a1a1a" stroke="#1a1a1a" stroke-width="0.08" font-family="DejaVu Sans, Liberation Sans, sans-serif">0</text>
<line x1="41.66" x2="41.66" y1="348.4" y2="350.29999999999995" stroke="#222" stroke-width="0.55"/>
<text x="41.66" y="356.5" font-size="4.95" text-anchor="middle" fill="#1a1a1a" stroke="#1a1a1a" stroke-width="0.08" font-family="DejaVu Sans, Liberation Sans, sans-serif">1</text>
<line x1="49.21" x2="49.21" y1="348.4" y2="350.29999999999995" stroke="#222" stroke-width="0.55"/>
<text x="49.21" y="356.5" font-size="4.95" text-anchor="middle" fill="#1a1a1a" stroke="#1a1a1a" stroke-width="0.08" font-family="DejaVu Sans, Liberation Sans, sans-serif">2</text>
<line x1="56.77" x2="56.77" y1="348.4" y2="350.29999999999995" stroke="#222" stroke-width="0.55"/>
<text x="56.77" y="356.5" font-size="4.95" text-anchor="middle" fill="#1a1a1a" stroke="#1a1a1a" stroke-width="0.08" font-family="DejaVu Sans, Liberation Sans, sans-serif">3</text>
<line x1="64.33" x2="64.33" y1="348.4" y2="350.29999999999995" stroke="#222" stroke-width="0.55"/>
<text x="64.33" y="356.5" font-size="4.95" text-anchor="middle" fill="#1a1a1a" stroke="#1a1a1a" stroke-width="0.08" font-family="DejaVu Sans, Liberation Sans, sans-serif">4</text>
<line x1="71.89" x2="71.89" y1="348.4" y2="350.29999999999995" stroke="#222" stroke-width="0.55"/>
<text x="71.89" y="356.5" font-size="4.95" text-anchor="middle" fill="#1a1a1a" stroke="#1a1a1a" stroke-width="0.08" font-family="DejaVu Sans, Liberation Sans, sans-serif">5</text>
<line x1="79.44" x2="79.44" y1="348.4" y2="350.29999999999995" stroke="#222" stroke-width="0.55"/>
<text x="79.44" y="356.5" font-size="4.95" text-anchor="middle" fill="#1a1a1a" stroke="#1a1a1a" stroke-width="0.08" font-family="DejaVu Sans, Liberation Sans, sans-serif">6</text>
<line x1="87.00" x2="87.00" y1="348.4" y2="350.29999999999995" stroke="#222" stroke-width="0.55"/>
<text x="87.00" y="356.5" font-size="4.95" text-anchor="middle" fill="#1a1a1a" stroke="#1a1a1a" stroke-width="0.08" font-family="DejaVu Sans, Liberation Sans, sans-serif">7</text>
<line x1="94.56" x2="94.56" y1="348.4" y2="350.29999999999995" stroke="#222" stroke-width="0.55"/>
<text x="94.56" y="356.5" font-size="4.95" text-anchor="middle" fill="#1a1a1a" stroke="#1a1a1a" stroke-width="0.08" font-family="DejaVu Sans, Liberation Sans, sans-serif">8</text>
<line x1="102.11" x2="102.11" y1="348.4" y2="350.29999999999995" stroke="#222" stroke-width="0.55"/>
<text x="102.11" y="356.5" font-size="4.95" text-anchor="middle" fill="#1a1a1a" stroke="#1a1a1a" stroke-width="0.08" font-family="DejaVu Sans, Liberation Sans, sans-serif">9</text>
<line x1="109.67" x2="109.67" y1="348.4" y2="350.29999999999995" stroke="#222" stroke-width="0.55"/>
<text x="109.67" y="356.5" font-size="4.95" text-anchor="middle" fill="#1a1a1a" stroke="#1a1a1a" stroke-width="0.08" font-family="DejaVu Sans, Liberation Sans, sans-serif">10</text>
<line x1="117.23" x2="117.23" y1="348.4" y2="350.29999999999995" stroke="#222" stroke-width="0.55"/>
<text x="117.23" y="356.5" font-size="4.95" text-anchor="middle" fill="#1a1a1a" stroke="#1a1a1a" stroke-width="0.08" font-family="DejaVu Sans, Liberation Sans, sans-serif">11</text>
<line x1="124.78" x2="124.78" y1="348.4" y2="350.29999999999995" stroke="#222" stroke-width="0.55"/>
<text x="124.78" y="356.5" font-size="4.95" text-anchor="middle" fill="#1a1a1a" stroke="#1a1a1a" stroke-width="0.08" font-family="DejaVu Sans, Liberation Sans, sans-serif">12</text>
<line x1="132.34" x2="132.34" y1="348.4" y2="350.29999999999995" stroke="#222" stroke-width="0.55"/>
<text x="132.34" y="356.5" font-size="4.95" text-anchor="middle" fill="#1a1a1a" stroke="#1a1a1a" stroke-width="0.08" font-family="DejaVu Sans, Liberation Sans, sans-serif">13</text>
<line x1="139.90" x2="139.90" y1="348.4" y2="350.29999999999995" stroke="#222" stroke-width="0.55"/>
<text x="139.90" y="356.5" font-size="4.95" text-anchor="middle" fill="#1a1a1a" stroke="#1a1a1a" stroke-width="0.08" font-family="DejaVu Sans, Liberation Sans, sans-serif">14</text>
<line x1="147.46" x2="147.46" y1="348.4" y2="350.29999999999995" stroke="#222" stroke-width="0.55"/>
<text x="147.46" y="356.5" font-size="4.95" text-anchor="middle" fill="#1a1a1a" stroke="#1a1a1a" stroke-width="0.08" font-family="DejaVu Sans, Liberation Sans, sans-serif">15</text>
<line x1="155.01" x2="155.01" y1="348.4" y2="350.29999999999995" stroke="#222" stroke-width="0.55"/>
<text x="155.01" y="356.5" font-size="4.95" text-anchor="middle" fill="#1a1a1a" stroke="#1a1a1a" stroke-width="0.08" font-family="DejaVu Sans, Liberation Sans, sans-serif">16</text>
<line x1="162.57" x2="162.57" y1="348.4" y2="350.29999999999995" stroke="#222" stroke-width="0.55"/>
<text x="162.57" y="356.5" font-size="4.95" text-anchor="middle" fill="#1a1a1a" stroke="#1a1a1a" stroke-width="0.08" font-family="DejaVu Sans, Liberation Sans, sans-serif">17</text>
<line x1="170.13" x2="170.13" y1="348.4" y2="350.29999999999995" stroke="#222" stroke-width="0.55"/>
<text x="170.13" y="356.5" font-size="4.95" text-anchor="middle" fill="#1a1a1a" stroke="#1a1a1a" stroke-width="0.08" font-family="DejaVu Sans, Liberation Sans, sans-serif">18</text>
<line x1="177.68" x2="177.68" y1="348.4" y2="350.29999999999995" stroke="#222" stroke-width="0.55"/>
<text x="177.68" y="356.5" font-size="4.95" text-anchor="middle" fill="#1a1a1a" stroke="#1a1a1a" stroke-width="0.08" font-family="DejaVu Sans, Liberation Sans, sans-serif">19</text>
<line x1="185.24" x2="185.24" y1="348.4" y2="350.29999999999995" stroke="#222" stroke-width="0.55"/>
<text x="185.24" y="356.5" font-size="4.95" text-anchor="middle" fill="#1a1a1a" stroke="#1a1a1a" stroke-width="0.08" font-family="DejaVu Sans, Liberation Sans, sans-serif">20</text>
<line x1="192.80" x2="192.80" y1="348.4" y2="350.29999999999995" stroke="#222" stroke-width="0.55"/>
<text x="192.80" y="356.5" font-size="4.95" text-anchor="middle" fill="#1a1a1a" stroke="#1a1a1a" stroke-width="0.08" font-family="DejaVu Sans, Liberation Sans, sans-serif">21</text>
<line x1="200.35" x2="200.35" y1="348.4" y2="350.29999999999995" stroke="#222" stroke-width="0.55"/>
<text x="200.35" y="356.5" font-size="4.95" text-anchor="middle" fill="#1a1a1a" stroke="#1a1a1a" stroke-width="0.08" font-family="DejaVu Sans, Liberation Sans, sans-serif">22</text>
<line x1="207.91" x2="207.91" y1="348.4" y2="350.29999999999995" stroke="#222" stroke-width="0.55"/>
<text x="207.91" y="356.5" font-size="4.95" text-anchor="middle" fill="#1a1a1a" stroke="#1a1a1a" stroke-width="0.08" font-family="DejaVu Sans, Liberation Sans, sans-serif">23</text>
<line x1="23.05" x2="24.95" y1="334.80" y2="334.80" stroke="#222" stroke-width="0.55"/>
<text x="21.25" y="336.80" font-size="5.1" text-anchor="end" fill="#1a1a1a" stroke="#1a1a1a" stroke-width="0.1" font-family="DejaVu Sans, Liberation Sans, sans-serif">200</text>
<line x1="23.05" x2="24.95" y1="304.97" y2="304.97" stroke="#222" stroke-width="0.55"/>
<text x="21.25" y="306.97" font-size="5.1" text-anchor="end" fill="#1a1a1a" stroke="#1a1a1a" stroke-width="0.1" font-family="DejaVu Sans, Liberation Sans, sans-serif">400</text>
<line x1="23.05" x2="24.95" y1="275.15" y2="275.15" stroke="#222" stroke-width="0.55"/>
<text x="21.25" y="277.15" font-size="5.1" text-anchor="end" fill="#1a1a1a" stroke="#1a1a1a" stroke-width="0.1" font-family="DejaVu Sans, Liberation Sans, sans-serif">600</text>
<line x1="23.05" x2="24.95" y1="245.32" y2="245.32" stroke="#222" stroke-width="0.55"/>
<text x="21.25" y="247.32" font-size="5.1" text-anchor="end" fill="#1a1a1a" stroke="#1a1a1a" stroke-width="0.1" font-family="DejaVu Sans, Liberation Sans, sans-serif">800</text>
<line x1="23.05" x2="24.95" y1="215.50" y2="215.50" stroke="#222" stroke-width="0.55"/>
<text x="21.25" y="217.50" font-size="5.1" text-anchor="end" fill="#1a1a1a" stroke="#1a1a1a" stroke-width="0.1" font-family="DejaVu Sans, Liberation Sans, sans-serif">1000</text>
<text x="123.475" y="192.64999999999998" font-size="6.2" text-anchor="middle" fill="#1a1a1a" stroke="#1a1a1a" stroke-width="0.2" font-family="DejaVu Sans, Liberation Sans, sans-serif">Low-level</text>
<text x="122.87499999999999" y="363.29999999999995" font-size="5.1" text-anchor="middle" fill="#1a1a1a" stroke="#1a1a1a" stroke-width="0.1" font-family="DejaVu Sans, Liberation Sans, sans-serif">Hour</text>
<text transform="translate(5.149999999999999,272.37499999999994) rotate(-90)" font-size="5.1" text-anchor="middle" fill="#1a1a1a" stroke="#1a1a1a" stroke-width="0.1" font-family="DejaVu Sans, Liberation Sans, sans-serif">w</text>
<rect x="176.39999999999998" y="196.85" width="44.5" height="17.3" rx="1" fill="#fff" fill-opacity="0.8" stroke="#ccc" stroke-width="0.4"/>
<line x1="178.39999999999998" x2="188.39999999999998" y1="201.54999999999998" y2="201.54999999999998" stroke="#008000" stroke-opacity="0.32" stroke-width="0.9"/>
<line x1="178.39999999999998" x2="188.39999999999998" y1="208.65" y2="208.65" stroke="#c43c28" stroke-opacity="0.5" stroke-width="0.9"/>
<text x="192.39999999999998" y="203.25" font-size="5.1" fill="#1a1a1a" stroke="#1a1a1a" stroke-width="0.1" font-family="DejaVu Sans, Liberation Sans, sans-serif">Normal</text>
<text x="192.39999999999998" y="210.45" font-size="5.1" fill="#1a1a1a" stroke="#1a1a1a" stroke-width="0.1" font-family="DejaVu Sans, Liberation Sans, sans-serif">Abnormal</text>
</g>
<g>
<clipPath id="c4"><rect x="262.35" y="194.95" width="197.2" height="153.45"/></clipPath>
<g clip-path="url(#c4)">
<path d="M270.5 233.0 L273.4 246.5 L275.9 248.5 L276.6 250.5 L279.9 259.4 L281.8 258.3 L284.4 263.1 L286.3 262.6 L288.9 271.5 L291.5 268.9 L294.7 272.1 L297.9 269.3 L301.2 275.2 L305.7 277.2 L308.9 276.6 L310.9 283.7 L312.8 274.0 L315.4 279.8 L317.9 275.9 L322.5 277.9 L325.1 280.4 L326.9 273.3 L329.5 259.3 L333.4 243.9 L336.6 232.4 L338.5 223.7 L340.5 231.1 L341.8 224.2 L343.7 237.5 L346.3 258.0 L348.9 246.5 L351.2 236.2 L353.4 247.8 L355.3 256.1 L357.9 241.3 L359.2 233.0 L360.8 250.4 L363.1 241.3 L365.7 251.0 L368.3 251.0 L372.2 254.8 L374.5 251.4 L377.6 258.2 L380.3 262.8 L382.6 267.5 L384.5 262.1 L386.7 256.3 L389.6 264.0 L391.5 258.2 L393.5 252.0 L395.4 255.9 L397.1 251.4 L399.3 255.9 L400.8 249.8 L402.3 241.3 L403.9 231.5 L406.4 227.5 L408.8 228.4 L411.3 223.4 L413.8 215.4 L417.0 214.5 L419.8 213.3 L422.8 216.2 L426.0 215.4 L428.5 221.8 L431.8 225.1 L434.2 221.8 L437.5 217.8 L440.8 217.0 L443.2 220.2 L445.7 234.8 L447.7 225.1 L449.8 233.2 L450.4 231.6 L450.3 288.1 L448.3 285.1 L445.1 279.7 L440.2 275.7 L435.4 273.7 L430.5 278.7 L426.5 280.2 L423.3 278.2 L421.7 276.2 L419.4 284.2 L416.8 287.1 L413.6 287.8 L411.1 290.3 L407.9 298.2 L405.5 299.9 L403.1 304.7 L400.6 314.3 L397.4 318.2 L395.0 317.4 L392.6 319.8 L390.1 314.3 L386.9 320.7 L383.8 317.2 L381.2 318.1 L376.7 312.3 L373.5 315.6 L370.9 314.3 L366.3 305.3 L362.5 310.4 L360.5 311.7 L356.6 308.5 L352.8 303.4 L347.6 299.5 L346.3 306.0 L344.4 301.0 L341.9 297.0 L338.5 298.0 L334.7 304.0 L332.1 311.9 L329.5 318.8 L326.9 320.0 L323.8 322.6 L320.6 320.4 L318.6 322.6 L316.0 321.3 L311.5 322.6 L309.6 321.3 L305.7 322.6 L301.8 320.7 L300.8 314.9 L299.9 318.7 L297.3 318.1 L294.7 311.1 L292.8 314.9 L289.5 311.7 L287.6 306.0 L283.7 304.7 L279.8 296.9 L273.4 293.1 L270.5 292.1Z" fill="#adff2f" fill-opacity="0.4"/>
<path d="M270.5 274.2 L271.9 281.2 L274.0 288.1 L277.2 292.1 L281.1 297.0 L284.4 304.0 L287.6 310.9 L291.5 314.9 L296.6 317.8 L301.8 319.8 L309.6 320.3 L314.7 321.3 L318.6 322.3 L322.5 322.3 L326.9 318.8 L329.5 313.9 L332.1 294.1 L334.7 276.2 L336.6 272.3 L338.5 269.3 L341.1 270.3 L342.4 271.3 L344.4 284.2 L346.3 296.0 L349.5 292.1 L353.4 302.0 L357.9 307.9 L361.8 312.9 L365.7 315.4 L372.2 316.9 L378.6 320.3 L383.8 321.8 L386.9 322.3 L393.4 323.3 L399.8 323.3 L403.1 323.1 L407.9 322.3 L411.1 317.4 L413.6 311.1 L416.0 295.1 L417.6 282.2 L419.1 244.5 L419.9 202.4 L420.8 244.5 L421.7 249.8 L427.3 252.9 L433.8 252.1 L438.6 256.1 L443.5 259.4 L450.3 265.7 L450.0 310.4 L447.3 304.0 L442.4 299.9 L438.3 295.0 L435.0 295.0 L431.0 302.3 L426.1 307.2 L420.4 308.9 L417.1 320.3 L417.6 328.7 L415.2 334.3 L411.1 336.7 L407.9 338.2 L396.9 338.0 L386.9 337.4 L378.6 337.2 L372.2 336.7 L365.7 336.7 L359.2 337.0 L352.8 335.7 L346.3 334.2 L343.7 335.4 L342.4 323.8 L339.8 314.3 L334.7 323.8 L330.1 334.1 L329.5 334.7 L326.9 335.4 L318.6 335.4 L312.2 335.3 L305.7 335.0 L299.2 334.7 L292.8 334.1 L288.2 332.7 L283.7 331.5 L279.8 329.6 L276.6 326.5 L273.4 322.6 L270.5 321.3Z" fill="#90ee90" fill-opacity="0.4"/>
<path d="M270.5 258.0 L272.7 267.0 L274.7 271.5 L275.9 270.8 L277.9 275.2 L281.1 279.2 L283.7 284.2 L286.3 286.7 L287.6 285.4 L292.8 289.9 L294.7 289.3 L297.3 290.6 L299.2 289.9 L305.0 298.9 L308.5 294.4 L310.2 298.8 L316.0 297.6 L321.2 296.3 L325.1 299.5 L326.9 295.6 L328.8 284.2 L332.1 274.6 L336.0 267.6 L338.3 263.5 L340.2 268.3 L341.8 265.7 L346.3 280.5 L348.9 269.6 L351.5 266.3 L353.4 269.6 L356.0 277.2 L359.2 267.6 L361.2 273.4 L363.1 272.1 L365.7 275.9 L370.9 276.6 L374.7 279.2 L378.6 281.7 L380.4 283.7 L382.1 286.3 L383.9 282.2 L385.4 280.7 L386.9 281.5 L389.3 283.9 L391.7 278.2 L394.2 279.9 L396.6 275.8 L399.0 278.2 L401.4 274.2 L403.5 264.8 L404.9 262.5 L405.9 263.2 L407.4 259.8 L408.9 253.6 L412.0 244.9 L415.2 243.3 L420.0 233.7 L423.3 238.5 L426.5 237.7 L432.2 247.3 L435.4 243.3 L442.7 240.2 L445.9 250.6 L448.3 250.6 L450.3 252.1" fill="none" stroke="#008000" stroke-opacity="0.5" stroke-width="1.15" stroke-linejoin="round"/>
<path d="M270.5 292.5 L274.0 300.8 L277.2 306.5 L281.1 312.3 L284.4 317.4 L287.6 318.7 L291.5 321.9 L296.6 324.5 L301.8 325.8 L309.6 326.2 L314.7 327.1 L318.6 328.3 L322.5 327.1 L324.9 324.8 L326.9 321.9 L329.5 321.3 L332.1 308.5 L334.7 291.9 L336.6 290.6 L338.5 286.7 L341.1 288.6 L342.4 288.0 L344.4 303.4 L346.3 311.7 L349.5 306.0 L353.4 314.3 L357.9 317.4 L361.8 320.7 L365.7 321.9 L372.2 322.6 L378.6 325.8 L383.8 327.1 L386.9 326.3 L393.4 328.7 L399.8 327.9 L406.3 326.3 L411.1 322.3 L414.4 314.3 L416.8 306.3 L418.4 290.3 L419.2 274.2 L420.0 255.3 L421.7 273.7 L423.3 275.8 L426.5 278.2 L430.5 276.6 L433.8 274.2 L435.4 271.4 L440.2 273.7 L441.9 274.2 L445.1 277.4 L448.3 283.1 L450.3 286.2" fill="none" stroke="#008000" stroke-opacity="0.5" stroke-width="1.15" stroke-linejoin="round"/>
<path d="M270.9 285.3 L272.9 302.4 L275.0 299.2 L276.1 301.6 L278.3 284.4 L280.4 295.9 L282.4 286.1 L284.3 291.8 L286.4 285.3 L288.9 279.5 L290.5 287.7 L292.2 323.7 L294.6 333.5 L297.1 330.2 L299.5 327.0 L302.0 314.7 L304.4 332.7 L306.1 327.0 L309.3 333.5 L312.6 330.2 L314.2 327.0 L315.9 309.8 L318.0 333.5 L320.8 327.0 L322.4 331.9 L324.1 325.3 L326.5 331.9 L328.2 312.2 L329.8 283.6 L331.2 320.4 L332.9 340.0 L335.7 331.9 L338.2 333.5 L340.6 314.7 L343.1 336.8 L346.4 338.4 L348.3 333.5 L351.3 340.0 L353.7 317.2 L357.0 338.4 L361.1 327.0 L362.7 335.1 L365.2 323.7 L368.4 331.9 L372.5 340.9 L375.8 327.0 L378.3 323.7 L380.4 338.4 L383.2 327.0 L385.6 338.4 L387.6 327.0 L389.7 314.7 L393.0 340.0 L396.5 331.9 L398.6 330.2 L400.9 319.6 L402.5 340.0 L404.6 330.2 L407.1 332.7 L410.4 340.9 L412.3 309.8 L414.4 335.1 L416.9 336.8 L418.5 339.2 L421.0 331.9 L424.3 323.7 L426.7 331.9 L428.3 330.2 L430.8 333.5 L433.3 339.2 L436.9 318.0 L439.5 338.4 L443.1 330.2 L445.5 335.1 L448.5 320.4 L450.4 331.9" fill="none" stroke="#ff0000" stroke-opacity="0.25" stroke-width="1.1" stroke-linejoin="round"/>
</g>
<rect x="262.35" y="194.95" width="197.2" height="153.45" fill="none" stroke="#333" stroke-width="0.7"/>
<line x1="271.00" x2="271.00" y1="348.4" y2="350.29999999999995" stroke="#222" stroke-width="0.55"/>
<text x="271.00" y="356.5" font-size="4.95" text-anchor="middle" fill="#1a1a1a" stroke="#1a1a1a" stroke-width="0.08" font-family="DejaVu Sans, Liberation Sans, sans-serif">0</text>
<line x1="278.56" x2="278.56" y1="348.4" y2="350.29999999999995" stroke="#222" stroke-width="0.55"/>
<text x="278.56" y="356.5" font-size="4.95" text-anchor="middle" fill="#1a1a1a" stroke="#1a1a1a" stroke-width="0.08" font-family="DejaVu Sans, Liberation Sans, sans-serif">1</text>
<line x1="286.11" x2="286.11" y1="348.4" y2="350.29999999999995" stroke="#222" stroke-width="0.55"/>
<text x="286.11" y="356.5" font-size="4.95" text-anchor="middle" fill="#1a1a1a" stroke="#1a1a1a" stroke-width="0.08" font-family="DejaVu Sans, Liberation Sans, sans-serif">2</text>
<line x1="293.67" x2="293.67" y1="348.4" y2="350.29999999999995" stroke="#222" stroke-width="0.55"/>
<text x="293.67" y="356.5" font-size="4.95" text-anchor="middle" fill="#1a1a1a" stroke="#1a1a1a" stroke-width="0.08" font-family="DejaVu Sans, Liberation Sans, sans-serif">3</text>
<line x1="301.23" x2="301.23" y1="348.4" y2="350.29999999999995" stroke="#222" stroke-width="0.55"/>
<text x="301.23" y="356.5" font-size="4.95" text-anchor="middle" fill="#1a1a1a" stroke="#1a1a1a" stroke-width="0.08" font-family="DejaVu Sans, Liberation Sans, sans-serif">4</text>
<line x1="308.79" x2="308.79" y1="348.4" y2="350.29999999999995" stroke="#222" stroke-width="0.55"/>
<text x="308.79" y="356.5" font-size="4.95" text-anchor="middle" fill="#1a1a1a" stroke="#1a1a1a" stroke-width="0.08" font-family="DejaVu Sans, Liberation Sans, sans-serif">5</text>
<line x1="316.34" x2="316.34" y1="348.4" y2="350.29999999999995" stroke="#222" stroke-width="0.55"/>
<text x="316.34" y="356.5" font-size="4.95" text-anchor="middle" fill="#1a1a1a" stroke="#1a1a1a" stroke-width="0.08" font-family="DejaVu Sans, Liberation Sans, sans-serif">6</text>
<line x1="323.90" x2="323.90" y1="348.4" y2="350.29999999999995" stroke="#222" stroke-width="0.55"/>
<text x="323.90" y="356.5" font-size="4.95" text-anchor="middle" fill="#1a1a1a" stroke="#1a1a1a" stroke-width="0.08" font-family="DejaVu Sans, Liberation Sans, sans-serif">7</text>
<line x1="331.46" x2="331.46" y1="348.4" y2="350.29999999999995" stroke="#222" stroke-width="0.55"/>
<text x="331.46" y="356.5" font-size="4.95" text-anchor="middle" fill="#1a1a1a" stroke="#1a1a1a" stroke-width="0.08" font-family="DejaVu Sans, Liberation Sans, sans-serif">8</text>
<line x1="339.01" x2="339.01" y1="348.4" y2="350.29999999999995" stroke="#222" stroke-width="0.55"/>
<text x="339.01" y="356.5" font-size="4.95" text-anchor="middle" fill="#1a1a1a" stroke="#1a1a1a" stroke-width="0.08" font-family="DejaVu Sans, Liberation Sans, sans-serif">9</text>
<line x1="346.57" x2="346.57" y1="348.4" y2="350.29999999999995" stroke="#222" stroke-width="0.55"/>
<text x="346.57" y="356.5" font-size="4.95" text-anchor="middle" fill="#1a1a1a" stroke="#1a1a1a" stroke-width="0.08" font-family="DejaVu Sans, Liberation Sans, sans-serif">10</text>
<line x1="354.13" x2="354.13" y1="348.4" y2="350.29999999999995" stroke="#222" stroke-width="0.55"/>
<text x="354.13" y="356.5" font-size="4.95" text-anchor="middle" fill="#1a1a1a" stroke="#1a1a1a" stroke-width="0.08" font-family="DejaVu Sans, Liberation Sans, sans-serif">11</text>
<line x1="361.68" x2="361.68" y1="348.4" y2="350.29999999999995" stroke="#222" stroke-width="0.55"/>
<text x="361.68" y="356.5" font-size="4.95" text-anchor="middle" fill="#1a1a1a" stroke="#1a1a1a" stroke-width="0.08" font-family="DejaVu Sans, Liberation Sans, sans-serif">12</text>
<line x1="369.24" x2="369.24" y1="348.4" y2="350.29999999999995" stroke="#222" stroke-width="0.55"/>
<text x="369.24" y="356.5" font-size="4.95" text-anchor="middle" fill="#1a1a1a" stroke="#1a1a1a" stroke-width="0.08" font-family="DejaVu Sans, Liberation Sans, sans-serif">13</text>
<line x1="376.80" x2="376.80" y1="348.4" y2="350.29999999999995" stroke="#222" stroke-width="0.55"/>
<text x="376.80" y="356.5" font-size="4.95" text-anchor="middle" fill="#1a1a1a" stroke="#1a1a1a" stroke-width="0.08" font-family="DejaVu Sans, Liberation Sans, sans-serif">14</text>
<line x1="384.36" x2="384.36" y1="348.4" y2="350.29999999999995" stroke="#222" stroke-width="0.55"/>
<text x="384.36" y="356.5" font-size="4.95" text-anchor="middle" fill="#1a1a1a" stroke="#1a1a1a" stroke-width="0.08" font-family="DejaVu Sans, Liberation Sans, sans-serif">15</text>
<line x1="391.91" x2="391.91" y1="348.4" y2="350.29999999999995" stroke="#222" stroke-width="0.55"/>
<text x="391.91" y="356.5" font-size="4.95" text-anchor="middle" fill="#1a1a1a" stroke="#1a1a1a" stroke-width="0.08" font-family="DejaVu Sans, Liberation Sans, sans-serif">16</text>
<line x1="399.47" x2="399.47" y1="348.4" y2="350.29999999999995" stroke="#222" stroke-width="0.55"/>
<text x="399.47" y="356.5" font-size="4.95" text-anchor="middle" fill="#1a1a1a" stroke="#1a1a1a" stroke-width="0.08" font-family="DejaVu Sans, Liberation Sans, sans-serif">17</text>
<line x1="407.03" x2="407.03" y1="348.4" y2="350.29999999999995" stroke="#222" stroke-width="0.55"/>
<text x="407.03" y="356.5" font-size="4.95" text-anchor="middle" fill="#1a1a1a" stroke="#1a1a1a" stroke-width="0.08" font-family="DejaVu Sans, Liberation Sans, sans-serif">18</text>
<line x1="414.58" x2="414.58" y1="348.4" y2="350.29999999999995" stroke="#222" stroke-width="0.55"/>
<text x="414.58" y="356.5" font-size="4.95" text-anchor="middle" fill="#1a1a1a" stroke="#1a1a1a" stroke-width="0.08" font-family="DejaVu Sans, Liberation Sans, sans-serif">19</text>
<line x1="422.14" x2="422.14" y1="348.4" y2="350.29999999999995" stroke="#222" stroke-width="0.55"/>
<text x="422.14" y="356.5" font-size="4.95" text-anchor="middle" fill="#1a1a1a" stroke="#1a1a1a" stroke-width="0.08" font-family="DejaVu Sans, Liberation Sans, sans-serif">20</text>
<line x1="429.70" x2="429.70" y1="348.4" y2="350.29999999999995" stroke="#222" stroke-width="0.55"/>
<text x="429.70" y="356.5" font-size="4.95" text-anchor="middle" fill="#1a1a1a" stroke="#1a1a1a" stroke-width="0.08" font-family="DejaVu Sans, Liberation Sans, sans-serif">21</text>
<line x1="437.25" x2="437.25" y1="348.4" y2="350.29999999999995" stroke="#222" stroke-width="0.55"/>
<text x="437.25" y="356.5" font-size="4.95" text-anchor="middle" fill="#1a1a1a" stroke="#1a1a1a" stroke-width="0.08" font-family="DejaVu Sans, Liberation Sans, sans-serif">22</text>
<line x1="444.81" x2="444.81" y1="348.4" y2="350.29999999999995" stroke="#222" stroke-width="0.55"/>
<text x="444.81" y="356.5" font-size="4.95" text-anchor="middle" fill="#1a1a1a" stroke="#1a1a1a" stroke-width="0.08" font-family="DejaVu Sans, Liberation Sans, sans-serif">23</text>
<line x1="260.45000000000005" x2="262.35" y1="339.00" y2="339.00" stroke="#222" stroke-width="0.55"/>
<text x="258.65000000000003" y="341.00" font-size="5.1" text-anchor="end" fill="#1a1a1a" stroke="#1a1a1a" stroke-width="0.1" font-family="DejaVu Sans, Liberation Sans, sans-serif">200</text>
<line x1="260.45000000000005" x2="262.35" y1="308.32" y2="308.32" stroke="#222" stroke-width="0.55"/>
<text x="258.65000000000003" y="310.32" font-size="5.1" text-anchor="end" fill="#1a1a1a" stroke="#1a1a1a" stroke-width="0.1" font-family="DejaVu Sans, Liberation Sans, sans-serif">400</text>
<line x1="260.45000000000005" x2="262.35" y1="277.64" y2="277.64" stroke="#222" stroke-width="0.55"/>
<text x="258.65000000000003" y="279.64" font-size="5.1" text-anchor="end" fill="#1a1a1a" stroke="#1a1a1a" stroke-width="0.1" font-family="DejaVu Sans, Liberation Sans, sans-serif">600</text>
<line x1="260.45000000000005" x2="262.35" y1="246.96" y2="246.96" stroke="#222" stroke-width="0.55"/>
<text x="258.65000000000003" y="248.96" font-size="5.1" text-anchor="end" fill="#1a1a1a" stroke="#1a1a1a" stroke-width="0.1" font-family="DejaVu Sans, Liberation Sans, sans-serif">800</text>
<line x1="260.45000000000005" x2="262.35" y1="216.28" y2="216.28" stroke="#222" stroke-width="0.55"/>
<text x="258.65000000000003" y="218.28" font-size="5.1" text-anchor="end" fill="#1a1a1a" stroke="#1a1a1a" stroke-width="0.1" font-family="DejaVu Sans, Liberation Sans, sans-serif">1000</text>
<text x="360.65000000000003" y="192.64999999999998" font-size="6.2" text-anchor="middle" fill="#1a1a1a" stroke="#1a1a1a" stroke-width="0.2" font-family="DejaVu Sans, Liberation Sans, sans-serif">Low-level</text>
<text x="360.05000000000007" y="363.29999999999995" font-size="5.1" text-anchor="middle" fill="#1a1a1a" stroke="#1a1a1a" stroke-width="0.1" font-family="DejaVu Sans, Liberation Sans, sans-serif">Hour</text>
<text transform="translate(242.55,272.37499999999994) rotate(-90)" font-size="5.1" text-anchor="middle" fill="#1a1a1a" stroke="#1a1a1a" stroke-width="0.1" font-family="DejaVu Sans, Liberation Sans, sans-serif">w</text>
<rect x="413.35" y="196.85" width="44.5" height="17.3" rx="1" fill="#fff" fill-opacity="0.8" stroke="#ccc" stroke-width="0.4"/>
<line x1="415.35" x2="425.35" y1="201.54999999999998" y2="201.54999999999998" stroke="#008000" stroke-opacity="0.32" stroke-width="0.9"/>
<line x1="415.35" x2="425.35" y1="208.65" y2="208.65" stroke="#c43c28" stroke-opacity="0.5" stroke-width="0.9"/>
<text x="429.35" y="203.25" font-size="5.1" fill="#1a1a1a" stroke="#1a1a1a" stroke-width="0.1" font-family="DejaVu Sans, Liberation Sans, sans-serif">Normal</text>
<text x="429.35" y="210.45" font-size="5.1" fill="#1a1a1a" stroke="#1a1a1a" stroke-width="0.1" font-family="DejaVu Sans, Liberation Sans, sans-serif">Abnormal</text>
</g>
<g>
<clipPath id="c5"><rect x="24.95" y="379.65" width="197.65" height="153.55000000000007"/></clipPath>
<g clip-path="url(#c5)">
<path d="M33.6 454.2 L36.5 462.6 L39.0 463.9 L39.7 465.1 L43.0 470.6 L44.9 470.0 L47.5 473.0 L49.4 472.6 L52.0 478.2 L54.6 476.6 L57.8 478.5 L61.0 476.8 L64.3 480.5 L68.8 481.8 L72.0 481.4 L74.0 485.8 L75.9 479.8 L78.5 483.4 L81.0 481.0 L85.6 482.2 L88.2 483.7 L90.0 479.3 L92.6 470.6 L96.5 461.0 L99.7 453.9 L101.6 448.4 L103.6 453.1 L104.9 448.7 L106.8 457.0 L109.4 469.8 L112.0 462.6 L114.3 456.2 L116.5 463.4 L118.4 468.6 L121.0 459.4 L122.3 454.2 L123.9 465.0 L126.2 459.4 L128.8 465.4 L131.4 465.4 L135.3 467.8 L137.6 465.6 L140.7 469.9 L143.4 472.8 L145.7 475.7 L147.6 472.3 L149.8 468.7 L152.7 473.5 L154.6 469.9 L156.6 466.1 L158.5 468.5 L160.2 465.6 L162.4 468.5 L163.9 464.7 L165.4 459.4 L167.0 453.3 L169.5 450.8 L171.9 451.3 L174.4 448.2 L176.9 443.2 L180.1 442.7 L182.9 441.9 L185.9 443.7 L189.1 443.2 L191.6 447.2 L194.9 449.3 L197.3 447.2 L200.6 444.7 L203.9 444.2 L206.3 446.3 L208.8 455.3 L210.8 449.3 L212.9 454.3 L213.5 453.4 L213.4 488.5 L211.4 486.7 L208.2 483.3 L203.3 480.8 L198.5 479.6 L193.6 482.7 L189.6 483.6 L186.4 482.4 L184.8 481.1 L182.5 486.1 L179.9 487.9 L176.7 488.4 L174.2 489.9 L171.0 494.8 L168.6 495.9 L166.2 498.9 L163.7 504.8 L160.5 507.3 L158.1 506.8 L155.7 508.3 L153.2 504.8 L150.0 508.9 L146.9 506.7 L144.3 507.3 L139.8 503.6 L136.6 505.6 L134.0 504.8 L129.4 499.2 L125.6 502.4 L123.6 503.2 L119.7 501.3 L115.9 498.1 L110.7 495.6 L109.4 499.7 L107.5 496.6 L105.0 494.1 L101.6 494.7 L97.8 498.4 L95.2 503.4 L92.6 507.7 L90.0 508.4 L86.9 510.0 L83.7 508.7 L81.7 510.0 L79.1 509.2 L74.6 510.0 L72.7 509.2 L68.8 510.0 L64.9 508.9 L63.9 505.2 L63.0 507.6 L60.4 507.3 L57.8 502.9 L55.9 505.2 L52.6 503.2 L50.7 499.7 L46.8 498.9 L42.9 494.0 L36.5 491.6 L33.6 491.0Z" fill="#adff2f" fill-opacity="0.4"/>
<path d="M33.6 479.9 L35.0 484.2 L37.1 488.5 L40.3 491.0 L44.2 494.1 L47.5 498.4 L50.7 502.7 L54.6 505.2 L59.7 507.1 L64.9 508.3 L72.7 508.6 L77.8 509.2 L81.7 509.8 L85.6 509.8 L90.0 507.7 L92.6 504.6 L95.2 492.3 L97.8 481.1 L99.7 478.7 L101.6 476.8 L104.2 477.4 L105.5 478.1 L107.5 486.1 L109.4 493.5 L112.6 491.0 L116.5 497.2 L121.0 500.9 L124.9 504.0 L128.8 505.5 L135.3 506.5 L141.7 508.6 L146.9 509.5 L150.0 509.8 L156.5 510.5 L162.9 510.5 L166.2 510.3 L171.0 509.8 L174.2 506.8 L176.7 502.9 L179.1 492.9 L180.7 484.8 L182.2 461.4 L183.0 435.2 L183.9 461.4 L184.8 464.7 L190.4 466.6 L196.9 466.1 L201.7 468.6 L206.6 470.6 L213.4 474.6 L213.1 502.4 L210.4 498.4 L205.5 495.9 L201.4 492.8 L198.1 492.8 L194.1 497.4 L189.2 500.5 L183.5 501.5 L180.2 508.6 L180.7 513.9 L178.3 517.3 L174.2 518.8 L171.0 519.7 L160.0 519.6 L150.0 519.2 L141.7 519.1 L135.3 518.8 L128.8 518.8 L122.3 519.0 L115.9 518.2 L109.4 517.3 L106.8 518.0 L105.5 510.8 L102.9 504.8 L97.8 510.8 L93.2 517.2 L92.6 517.6 L90.0 518.0 L81.7 518.0 L75.3 517.9 L68.8 517.7 L62.3 517.6 L55.9 517.2 L51.3 516.3 L46.8 515.6 L42.9 514.4 L39.7 512.4 L36.5 510.0 L33.6 509.2Z" fill="#90ee90" fill-opacity="0.4"/>
<path d="M33.6 469.8 L35.8 475.4 L37.8 478.2 L39.0 477.7 L41.0 480.5 L44.2 483.0 L46.8 486.1 L49.4 487.7 L50.7 486.9 L55.9 489.7 L57.8 489.3 L60.4 490.1 L62.3 489.7 L68.1 495.3 L71.6 492.4 L73.3 495.2 L79.1 494.5 L84.3 493.7 L88.2 495.6 L90.0 493.2 L91.9 486.1 L95.2 480.2 L99.1 475.8 L101.4 473.2 L103.3 476.2 L104.9 474.6 L109.4 483.8 L112.0 477.0 L114.6 475.0 L116.5 477.0 L119.1 481.8 L122.3 475.8 L124.3 479.4 L126.2 478.5 L128.8 481.0 L134.0 481.4 L137.8 483.0 L141.7 484.5 L143.5 485.8 L145.2 487.4 L147.0 484.8 L148.5 483.9 L150.0 484.4 L152.4 485.9 L154.8 482.4 L157.3 483.4 L159.7 480.9 L162.1 482.4 L164.5 479.9 L166.6 474.0 L168.0 472.6 L169.0 473.1 L170.5 470.9 L172.0 467.1 L175.1 461.6 L178.3 460.6 L183.1 454.7 L186.4 457.6 L189.6 457.1 L195.3 463.1 L198.5 460.6 L205.8 458.7 L209.0 465.2 L211.4 465.2 L213.4 466.1" fill="none" stroke="#008000" stroke-opacity="0.5" stroke-width="1.15" stroke-linejoin="round"/>
<path d="M33.6 491.3 L37.1 496.5 L40.3 500.0 L44.2 503.6 L47.5 506.8 L50.7 507.6 L54.6 509.6 L59.7 511.2 L64.9 512.0 L72.7 512.3 L77.8 512.8 L81.7 513.6 L85.6 512.8 L88.0 511.4 L90.0 509.6 L92.6 509.2 L95.2 501.3 L97.8 490.9 L99.7 490.1 L101.6 487.7 L104.2 488.9 L105.5 488.5 L107.5 498.1 L109.4 503.2 L112.6 499.7 L116.5 504.8 L121.0 506.8 L124.9 508.9 L128.8 509.6 L135.3 510.0 L141.7 512.0 L146.9 512.8 L150.0 512.3 L156.5 513.9 L162.9 513.3 L169.4 512.3 L174.2 509.8 L177.5 504.8 L179.9 499.8 L181.5 489.9 L182.3 479.9 L183.1 468.1 L184.8 479.6 L186.4 480.9 L189.6 482.4 L193.6 481.4 L196.9 479.9 L198.5 478.1 L203.3 479.6 L205.0 479.9 L208.2 481.9 L211.4 485.4 L213.4 487.4" fill="none" stroke="#008000" stroke-opacity="0.5" stroke-width="1.15" stroke-linejoin="round"/>
<path d="M33.7 500.5 L35.5 502.8 L37.1 498.3 L39.3 513.4 L41.6 516.4 L43.1 514.9 L44.9 524.7 L46.9 513.4 L48.8 514.9 L50.6 525.4 L52.1 510.3 L53.9 506.6 L55.9 514.9 L58.2 513.4 L60.0 522.4 L61.9 510.3 L64.2 520.9 L66.0 519.4 L67.7 502.0 L69.5 520.9 L71.0 517.9 L72.8 523.9 L74.8 516.4 L76.6 520.1 L78.5 514.9 L80.8 517.9 L83.1 513.4 L85.0 524.7 L87.1 516.4 L89.1 513.4 L91.1 522.4 L92.5 512.0 L93.5 510.8 L95.0 521.4 L98.0 489.7 L100.3 512.3 L101.8 518.4 L104.1 507.8 L105.9 495.7 L107.4 467.1 L108.9 524.4 L110.9 492.7 L112.8 470.8 L114.3 491.2 L115.3 455.0 L116.9 385.5 L118.6 455.0 L120.7 500.3 L122.2 497.2 L124.4 522.9 L125.9 513.8 L128.2 521.4 L130.5 515.3 L132.0 513.8 L134.2 522.9 L137.0 512.3 L139.5 521.4 L141.8 515.3 L144.8 522.9 L147.5 512.3 L150.1 521.4 L152.3 513.8 L154.6 524.4 L156.9 518.4 L158.5 512.0 L160.6 496.6 L162.5 510.3 L165.0 521.8 L166.6 516.9 L168.3 512.0 L169.9 521.0 L172.4 515.2 L174.3 521.8 L176.4 513.6 L178.6 518.5 L180.5 523.4 L182.7 509.5 L184.6 521.8 L187.1 515.2 L189.5 516.9 L191.2 521.8 L193.3 512.0 L195.3 517.7 L197.7 512.8 L199.8 515.2 L202.1 504.6 L204.2 513.6 L206.7 516.0 L208.7 512.8 L210.8 514.4 L213.2 520.1" fill="none" stroke="#ff0000" stroke-opacity="0.25" stroke-width="1.1" stroke-linejoin="round"/>
</g>
<rect x="24.95" y="379.65" width="197.65" height="153.55000000000007" fill="none" stroke="#333" stroke-width="0.7"/>
<line x1="34.10" x2="34.10" y1="533.2" y2="535.1" stroke="#222" stroke-width="0.55"/>
<text x="34.10" y="541.3000000000001" font-size="4.95" text-anchor="middle" fill="#1a1a1a" stroke="#1a1a1a" stroke-width="0.08" font-family="DejaVu Sans, Liberation Sans, sans-serif">0</text>
<line x1="41.66" x2="41.66" y1="533.2" y2="535.1" stroke="#222" stroke-width="0.55"/>
<text x="41.66" y="541.3000000000001" font-size="4.95" text-anchor="middle" fill="#1a1a1a" stroke="#1a1a1a" stroke-width="0.08" font-family="DejaVu Sans, Liberation Sans, sans-serif">1</text>
<line x1="49.21" x2="49.21" y1="533.2" y2="535.1" stroke="#222" stroke-width="0.55"/>
<text x="49.21" y="541.3000000000001" font-size="4.95" text-anchor="middle" fill="#1a1a1a" stroke="#1a1a1a" stroke-width="0.08" font-family="DejaVu Sans, Liberation Sans, sans-serif">2</text>
<line x1="56.77" x2="56.77" y1="533.2" y2="535.1" stroke="#222" stroke-width="0.55"/>
<text x="56.77" y="541.3000000000001" font-size="4.95" text-anchor="middle" fill="#1a1a1a" stroke="#1a1a1a" stroke-width="0.08" font-family="DejaVu Sans, Liberation Sans, sans-serif">3</text>
<line x1="64.33" x2="64.33" y1="533.2" y2="535.1" stroke="#222" stroke-width="0.55"/>
<text x="64.33" y="541.3000000000001" font-size="4.95" text-anchor="middle" fill="#1a1a1a" stroke="#1a1a1a" stroke-width="0.08" font-family="DejaVu Sans, Liberation Sans, sans-serif">4</text>
<line x1="71.89" x2="71.89" y1="533.2" y2="535.1" stroke="#222" stroke-width="0.55"/>
<text x="71.89" y="541.3000000000001" font-size="4.95" text-anchor="middle" fill="#1a1a1a" stroke="#1a1a1a" stroke-width="0.08" font-family="DejaVu Sans, Liberation Sans, sans-serif">5</text>
<line x1="79.44" x2="79.44" y1="533.2" y2="535.1" stroke="#222" stroke-width="0.55"/>
<text x="79.44" y="541.3000000000001" font-size="4.95" text-anchor="middle" fill="#1a1a1a" stroke="#1a1a1a" stroke-width="0.08" font-family="DejaVu Sans, Liberation Sans, sans-serif">6</text>
<line x1="87.00" x2="87.00" y1="533.2" y2="535.1" stroke="#222" stroke-width="0.55"/>
<text x="87.00" y="541.3000000000001" font-size="4.95" text-anchor="middle" fill="#1a1a1a" stroke="#1a1a1a" stroke-width="0.08" font-family="DejaVu Sans, Liberation Sans, sans-serif">7</text>
<line x1="94.56" x2="94.56" y1="533.2" y2="535.1" stroke="#222" stroke-width="0.55"/>
<text x="94.56" y="541.3000000000001" font-size="4.95" text-anchor="middle" fill="#1a1a1a" stroke="#1a1a1a" stroke-width="0.08" font-family="DejaVu Sans, Liberation Sans, sans-serif">8</text>
<line x1="102.11" x2="102.11" y1="533.2" y2="535.1" stroke="#222" stroke-width="0.55"/>
<text x="102.11" y="541.3000000000001" font-size="4.95" text-anchor="middle" fill="#1a1a1a" stroke="#1a1a1a" stroke-width="0.08" font-family="DejaVu Sans, Liberation Sans, sans-serif">9</text>
<line x1="109.67" x2="109.67" y1="533.2" y2="535.1" stroke="#222" stroke-width="0.55"/>
<text x="109.67" y="541.3000000000001" font-size="4.95" text-anchor="middle" fill="#1a1a1a" stroke="#1a1a1a" stroke-width="0.08" font-family="DejaVu Sans, Liberation Sans, sans-serif">10</text>
<line x1="117.23" x2="117.23" y1="533.2" y2="535.1" stroke="#222" stroke-width="0.55"/>
<text x="117.23" y="541.3000000000001" font-size="4.95" text-anchor="middle" fill="#1a1a1a" stroke="#1a1a1a" stroke-width="0.08" font-family="DejaVu Sans, Liberation Sans, sans-serif">11</text>
<line x1="124.78" x2="124.78" y1="533.2" y2="535.1" stroke="#222" stroke-width="0.55"/>
<text x="124.78" y="541.3000000000001" font-size="4.95" text-anchor="middle" fill="#1a1a1a" stroke="#1a1a1a" stroke-width="0.08" font-family="DejaVu Sans, Liberation Sans, sans-serif">12</text>
<line x1="132.34" x2="132.34" y1="533.2" y2="535.1" stroke="#222" stroke-width="0.55"/>
<text x="132.34" y="541.3000000000001" font-size="4.95" text-anchor="middle" fill="#1a1a1a" stroke="#1a1a1a" stroke-width="0.08" font-family="DejaVu Sans, Liberation Sans, sans-serif">13</text>
<line x1="139.90" x2="139.90" y1="533.2" y2="535.1" stroke="#222" stroke-width="0.55"/>
<text x="139.90" y="541.3000000000001" font-size="4.95" text-anchor="middle" fill="#1a1a1a" stroke="#1a1a1a" stroke-width="0.08" font-family="DejaVu Sans, Liberation Sans, sans-serif">14</text>
<line x1="147.46" x2="147.46" y1="533.2" y2="535.1" stroke="#222" stroke-width="0.55"/>
<text x="147.46" y="541.3000000000001" font-size="4.95" text-anchor="middle" fill="#1a1a1a" stroke="#1a1a1a" stroke-width="0.08" font-family="DejaVu Sans, Liberation Sans, sans-serif">15</text>
<line x1="155.01" x2="155.01" y1="533.2" y2="535.1" stroke="#222" stroke-width="0.55"/>
<text x="155.01" y="541.3000000000001" font-size="4.95" text-anchor="middle" fill="#1a1a1a" stroke="#1a1a1a" stroke-width="0.08" font-family="DejaVu Sans, Liberation Sans, sans-serif">16</text>
<line x1="162.57" x2="162.57" y1="533.2" y2="535.1" stroke="#222" stroke-width="0.55"/>
<text x="162.57" y="541.3000000000001" font-size="4.95" text-anchor="middle" fill="#1a1a1a" stroke="#1a1a1a" stroke-width="0.08" font-family="DejaVu Sans, Liberation Sans, sans-serif">17</text>
<line x1="170.13" x2="170.13" y1="533.2" y2="535.1" stroke="#222" stroke-width="0.55"/>
<text x="170.13" y="541.3000000000001" font-size="4.95" text-anchor="middle" fill="#1a1a1a" stroke="#1a1a1a" stroke-width="0.08" font-family="DejaVu Sans, Liberation Sans, sans-serif">18</text>
<line x1="177.68" x2="177.68" y1="533.2" y2="535.1" stroke="#222" stroke-width="0.55"/>
<text x="177.68" y="541.3000000000001" font-size="4.95" text-anchor="middle" fill="#1a1a1a" stroke="#1a1a1a" stroke-width="0.08" font-family="DejaVu Sans, Liberation Sans, sans-serif">19</text>
<line x1="185.24" x2="185.24" y1="533.2" y2="535.1" stroke="#222" stroke-width="0.55"/>
<text x="185.24" y="541.3000000000001" font-size="4.95" text-anchor="middle" fill="#1a1a1a" stroke="#1a1a1a" stroke-width="0.08" font-family="DejaVu Sans, Liberation Sans, sans-serif">20</text>
<line x1="192.80" x2="192.80" y1="533.2" y2="535.1" stroke="#222" stroke-width="0.55"/>
<text x="192.80" y="541.3000000000001" font-size="4.95" text-anchor="middle" fill="#1a1a1a" stroke="#1a1a1a" stroke-width="0.08" font-family="DejaVu Sans, Liberation Sans, sans-serif">21</text>
<line x1="200.35" x2="200.35" y1="533.2" y2="535.1" stroke="#222" stroke-width="0.55"/>
<text x="200.35" y="541.3000000000001" font-size="4.95" text-anchor="middle" fill="#1a1a1a" stroke="#1a1a1a" stroke-width="0.08" font-family="DejaVu Sans, Liberation Sans, sans-serif">22</text>
<line x1="207.91" x2="207.91" y1="533.2" y2="535.1" stroke="#222" stroke-width="0.55"/>
<text x="207.91" y="541.3000000000001" font-size="4.95" text-anchor="middle" fill="#1a1a1a" stroke="#1a1a1a" stroke-width="0.08" font-family="DejaVu Sans, Liberation Sans, sans-serif">23</text>
<line x1="23.05" x2="24.95" y1="520.25" y2="520.25" stroke="#222" stroke-width="0.55"/>
<text x="21.25" y="522.25" font-size="5.1" text-anchor="end" fill="#1a1a1a" stroke="#1a1a1a" stroke-width="0.1" font-family="DejaVu Sans, Liberation Sans, sans-serif">200</text>
<line x1="23.05" x2="24.95" y1="501.14" y2="501.14" stroke="#222" stroke-width="0.55"/>
<text x="21.25" y="503.14" font-size="5.1" text-anchor="end" fill="#1a1a1a" stroke="#1a1a1a" stroke-width="0.1" font-family="DejaVu Sans, Liberation Sans, sans-serif">400</text>
<line x1="23.05" x2="24.95" y1="482.02" y2="482.02" stroke="#222" stroke-width="0.55"/>
<text x="21.25" y="484.02" font-size="5.1" text-anchor="end" fill="#1a1a1a" stroke="#1a1a1a" stroke-width="0.1" font-family="DejaVu Sans, Liberation Sans, sans-serif">600</text>
<line x1="23.05" x2="24.95" y1="462.91" y2="462.91" stroke="#222" stroke-width="0.55"/>
<text x="21.25" y="464.91" font-size="5.1" text-anchor="end" fill="#1a1a1a" stroke="#1a1a1a" stroke-width="0.1" font-family="DejaVu Sans, Liberation Sans, sans-serif">800</text>
<line x1="23.05" x2="24.95" y1="443.79" y2="443.79" stroke="#222" stroke-width="0.55"/>
<text x="21.25" y="445.79" font-size="5.1" text-anchor="end" fill="#1a1a1a" stroke="#1a1a1a" stroke-width="0.1" font-family="DejaVu Sans, Liberation Sans, sans-serif">1000</text>
<line x1="23.05" x2="24.95" y1="424.68" y2="424.68" stroke="#222" stroke-width="0.55"/>
<text x="21.25" y="426.68" font-size="5.1" text-anchor="end" fill="#1a1a1a" stroke="#1a1a1a" stroke-width="0.1" font-family="DejaVu Sans, Liberation Sans, sans-serif">1200</text>
<line x1="23.05" x2="24.95" y1="405.57" y2="405.57" stroke="#222" stroke-width="0.55"/>
<text x="21.25" y="407.57" font-size="5.1" text-anchor="end" fill="#1a1a1a" stroke="#1a1a1a" stroke-width="0.1" font-family="DejaVu Sans, Liberation Sans, sans-serif">1400</text>
<line x1="23.05" x2="24.95" y1="386.45" y2="386.45" stroke="#222" stroke-width="0.55"/>
<text x="21.25" y="388.45" font-size="5.1" text-anchor="end" fill="#1a1a1a" stroke="#1a1a1a" stroke-width="0.1" font-family="DejaVu Sans, Liberation Sans, sans-serif">1600</text>
<text x="123.475" y="377.34999999999997" font-size="6.2" text-anchor="middle" fill="#1a1a1a" stroke="#1a1a1a" stroke-width="0.2" font-family="DejaVu Sans, Liberation Sans, sans-serif">Low-level</text>
<text x="122.87499999999999" y="548.1" font-size="5.1" text-anchor="middle" fill="#1a1a1a" stroke="#1a1a1a" stroke-width="0.1" font-family="DejaVu Sans, Liberation Sans, sans-serif">Hour</text>
<text transform="translate(5.149999999999999,457.125) rotate(-90)" font-size="5.1" text-anchor="middle" fill="#1a1a1a" stroke="#1a1a1a" stroke-width="0.1" font-family="DejaVu Sans, Liberation Sans, sans-serif">w</text>
<rect x="176.39999999999998" y="381.54999999999995" width="44.5" height="17.3" rx="1" fill="#fff" fill-opacity="0.8" stroke="#ccc" stroke-width="0.4"/>
<line x1="178.39999999999998" x2="188.39999999999998" y1="386.24999999999994" y2="386.24999999999994" stroke="#008000" stroke-opacity="0.32" stroke-width="0.9"/>
<line x1="178.39999999999998" x2="188.39999999999998" y1="393.34999999999997" y2="393.34999999999997" stroke="#c43c28" stroke-opacity="0.5" stroke-width="0.9"/>
<text x="192.39999999999998" y="387.94999999999993" font-size="5.1" fill="#1a1a1a" stroke="#1a1a1a" stroke-width="0.1" font-family="DejaVu Sans, Liberation Sans, sans-serif">Normal</text>
<text x="192.39999999999998" y="395.15" font-size="5.1" fill="#1a1a1a" stroke="#1a1a1a" stroke-width="0.1" font-family="DejaVu Sans, Liberation Sans, sans-serif">Abnormal</text>
</g>
<g>
<clipPath id="c6"><rect x="262.35" y="379.65" width="197.2" height="153.55000000000007"/></clipPath>
<g clip-path="url(#c6)">
<path d="M270.5 416.8 L273.4 430.0 L275.9 431.9 L276.6 433.8 L279.9 442.5 L281.8 441.5 L284.4 446.2 L286.3 445.6 L288.9 454.3 L291.5 451.8 L294.7 454.9 L297.9 452.2 L301.2 458.0 L305.7 459.9 L308.9 459.4 L310.9 466.2 L312.8 456.9 L315.4 462.5 L317.9 458.7 L322.5 460.6 L325.1 463.0 L326.9 456.1 L329.5 442.4 L333.4 427.4 L336.6 416.2 L338.5 407.7 L340.5 415.0 L341.8 408.2 L343.7 421.2 L346.3 441.2 L348.9 430.0 L351.2 419.9 L353.4 431.2 L355.3 439.3 L357.9 424.9 L359.2 416.8 L360.8 433.7 L363.1 424.9 L365.7 434.3 L368.3 434.3 L372.2 438.1 L374.5 434.7 L377.6 441.4 L380.3 445.9 L382.6 450.5 L384.5 445.1 L386.7 439.5 L389.6 447.1 L391.5 441.4 L393.5 435.4 L395.4 439.2 L397.1 434.7 L399.3 439.2 L400.8 433.2 L402.3 424.9 L403.9 415.4 L406.4 411.4 L408.8 412.3 L411.3 407.4 L413.8 399.6 L417.0 398.7 L419.8 397.6 L422.8 400.4 L426.0 399.6 L428.5 405.9 L431.8 409.1 L434.2 405.9 L437.5 401.9 L440.8 401.1 L443.2 404.3 L445.7 418.6 L447.7 409.1 L449.8 417.0 L450.4 415.5 L450.3 470.6 L448.3 467.7 L445.1 462.4 L440.2 458.5 L435.4 456.6 L430.5 461.4 L426.5 462.8 L423.3 460.9 L421.7 459.0 L419.4 466.7 L416.8 469.6 L413.6 470.3 L411.1 472.7 L407.9 480.5 L405.5 482.1 L403.1 486.7 L400.6 496.1 L397.4 500.0 L395.0 499.2 L392.6 501.5 L390.1 496.1 L386.9 502.4 L383.8 499.0 L381.2 499.9 L376.7 494.2 L373.5 497.4 L370.9 496.1 L366.3 487.3 L362.5 492.3 L360.5 493.6 L356.6 490.5 L352.8 485.5 L347.6 481.7 L346.3 488.0 L344.4 483.2 L341.9 479.3 L338.5 480.3 L334.7 486.1 L332.1 493.8 L329.5 500.6 L326.9 501.7 L323.8 504.2 L320.6 502.1 L318.6 504.2 L316.0 503.0 L311.5 504.2 L309.6 503.0 L305.7 504.2 L301.8 502.4 L300.8 496.7 L299.9 500.5 L297.3 499.9 L294.7 493.0 L292.8 496.7 L289.5 493.6 L287.6 488.0 L283.7 486.7 L279.8 479.2 L273.4 475.4 L270.5 474.5Z" fill="#adff2f" fill-opacity="0.4"/>
<path d="M270.5 457.0 L271.9 463.8 L274.0 470.6 L277.2 474.5 L281.1 479.3 L284.4 486.1 L287.6 492.8 L291.5 496.7 L296.6 499.6 L301.8 501.5 L309.6 502.0 L314.7 503.0 L318.6 504.0 L322.5 504.0 L326.9 500.6 L329.5 495.7 L332.1 476.4 L334.7 459.0 L336.6 455.1 L338.5 452.2 L341.1 453.2 L342.4 454.1 L344.4 466.7 L346.3 478.3 L349.5 474.5 L353.4 484.1 L357.9 489.9 L361.8 494.8 L365.7 497.2 L372.2 498.6 L378.6 502.0 L383.8 503.5 L386.9 504.0 L393.4 504.9 L399.8 504.9 L403.1 504.7 L407.9 504.0 L411.1 499.2 L413.6 493.0 L416.0 477.4 L417.6 464.8 L419.1 428.0 L419.9 386.9 L420.8 428.0 L421.7 433.2 L427.3 436.2 L433.8 435.5 L438.6 439.3 L443.5 442.5 L450.3 448.7 L450.0 492.3 L447.3 486.1 L442.4 482.1 L438.3 477.3 L435.0 477.3 L431.0 484.4 L426.1 489.3 L420.4 490.9 L417.1 502.0 L417.6 510.2 L415.2 515.7 L411.1 518.0 L407.9 519.4 L396.9 519.2 L386.9 518.7 L378.6 518.5 L372.2 518.0 L365.7 518.0 L359.2 518.3 L352.8 517.0 L346.3 515.6 L343.7 516.7 L342.4 505.4 L339.8 496.1 L334.7 505.4 L330.1 515.5 L329.5 516.0 L326.9 516.7 L318.6 516.7 L312.2 516.6 L305.7 516.3 L299.2 516.0 L292.8 515.5 L288.2 514.1 L283.7 512.9 L279.8 511.1 L276.6 508.0 L273.4 504.2 L270.5 503.0Z" fill="#90ee90" fill-opacity="0.4"/>
<path d="M270.5 441.2 L272.7 450.0 L274.7 454.3 L275.9 453.7 L277.9 458.0 L281.1 461.9 L283.7 466.7 L286.3 469.2 L287.6 468.0 L292.8 472.3 L294.7 471.7 L297.3 473.0 L299.2 472.3 L305.0 481.1 L308.5 476.7 L310.2 481.0 L316.0 479.9 L321.2 478.6 L325.1 481.7 L326.9 477.9 L328.8 466.7 L332.1 457.4 L336.0 450.6 L338.3 446.6 L340.2 451.2 L341.8 448.7 L346.3 463.1 L348.9 452.5 L351.5 449.3 L353.4 452.5 L356.0 459.9 L359.2 450.6 L361.2 456.2 L363.1 454.9 L365.7 458.7 L370.9 459.4 L374.7 461.9 L378.6 464.3 L380.4 466.2 L382.1 468.8 L383.9 464.8 L385.4 463.3 L386.9 464.1 L389.3 466.4 L391.7 460.9 L394.2 462.6 L396.6 458.6 L399.0 460.9 L401.4 457.0 L403.5 447.9 L404.9 445.5 L405.9 446.3 L407.4 442.9 L408.9 436.9 L412.0 428.4 L415.2 426.9 L420.0 417.5 L423.3 422.1 L426.5 421.4 L432.2 430.7 L435.4 426.9 L442.7 423.8 L445.9 433.9 L448.3 433.9 L450.3 435.5" fill="none" stroke="#008000" stroke-opacity="0.5" stroke-width="1.15" stroke-linejoin="round"/>
<path d="M270.5 474.8 L274.0 483.0 L277.2 488.6 L281.1 494.2 L284.4 499.2 L287.6 500.5 L291.5 503.6 L296.6 506.1 L301.8 507.3 L309.6 507.7 L314.7 508.6 L318.6 509.9 L322.5 508.6 L324.9 506.4 L326.9 503.6 L329.5 503.0 L332.1 490.5 L334.7 474.3 L336.6 473.0 L338.5 469.2 L341.1 471.1 L342.4 470.5 L344.4 485.5 L346.3 493.6 L349.5 488.0 L353.4 496.1 L357.9 499.2 L361.8 502.4 L365.7 503.6 L372.2 504.2 L378.6 507.3 L383.8 508.6 L386.9 507.8 L393.4 510.2 L399.8 509.4 L406.3 507.8 L411.1 504.0 L414.4 496.1 L416.8 488.3 L418.4 472.7 L419.2 457.0 L420.0 438.6 L421.7 456.6 L423.3 458.6 L426.5 460.9 L430.5 459.4 L433.8 457.0 L435.4 454.2 L440.2 456.6 L441.9 457.0 L445.1 460.1 L448.3 465.7 L450.3 468.7" fill="none" stroke="#008000" stroke-opacity="0.5" stroke-width="1.15" stroke-linejoin="round"/>
<path d="M270.9 469.4 L272.2 510.3 L274.5 511.1 L276.1 518.5 L277.8 512.0 L279.9 521.8 L282.4 503.0 L284.3 512.0 L286.0 505.4 L288.1 518.5 L290.2 508.7 L292.2 520.1 L293.8 510.3 L295.4 521.8 L297.4 497.2 L299.5 520.1 L301.2 510.3 L303.3 521.8 L305.3 510.3 L306.9 521.8 L308.9 510.3 L310.5 521.8 L312.3 490.7 L314.2 521.8 L316.4 510.3 L318.3 521.8 L320.3 508.7 L322.4 521.8 L324.4 507.1 L326.5 513.6 L328.5 523.4 L330.6 508.0 L332.2 521.5 L333.9 489.1 L334.9 439.3 L336.6 516.6 L338.5 499.4 L342.3 498.4 L344.8 520.4 L347.1 508.9 L349.0 516.6 L350.9 510.8 L352.8 520.4 L355.7 506.1 L359.5 520.4 L363.3 514.6 L366.1 518.5 L370.9 504.2 L374.7 516.6 L377.6 520.4 L380.4 518.5 L384.3 507.0 L388.1 524.2 L390.9 510.8 L393.2 520.4 L395.4 524.2 L397.4 505.1 L399.6 512.7 L401.1 510.8 L402.5 525.1 L404.4 510.8 L406.3 524.2 L408.2 508.9 L409.7 524.2 L412.0 503.2 L413.9 516.6 L415.8 512.7 L417.7 525.1 L419.7 510.8 L420.6 482.2 L422.1 465.1 L424.4 489.8 L426.3 482.2 L428.2 489.8 L430.1 487.9 L434.9 480.3 L438.7 490.8 L440.6 482.2 L442.2 487.9 L444.5 472.7 L446.4 486.0 L447.7 484.1 L449.8 493.7" fill="none" stroke="#ff0000" stroke-opacity="0.25" stroke-width="1.1" stroke-linejoin="round"/>
</g>
<rect x="262.35" y="379.65" width="197.2" height="153.55000000000007" fill="none" stroke="#333" stroke-width="0.7"/>
<line x1="271.00" x2="271.00" y1="533.2" y2="535.1" stroke="#222" stroke-width="0.55"/>
<text x="271.00" y="541.3000000000001" font-size="4.95" text-anchor="middle" fill="#1a1a1a" stroke="#1a1a1a" stroke-width="0.08" font-family="DejaVu Sans, Liberation Sans, sans-serif">0</text>
<line x1="278.56" x2="278.56" y1="533.2" y2="535.1" stroke="#222" stroke-width="0.55"/>
<text x="278.56" y="541.3000000000001" font-size="4.95" text-anchor="middle" fill="#1a1a1a" stroke="#1a1a1a" stroke-width="0.08" font-family="DejaVu Sans, Liberation Sans, sans-serif">1</text>
<line x1="286.11" x2="286.11" y1="533.2" y2="535.1" stroke="#222" stroke-width="0.55"/>
<text x="286.11" y="541.3000000000001" font-size="4.95" text-anchor="middle" fill="#1a1a1a" stroke="#1a1a1a" stroke-width="0.08" font-family="DejaVu Sans, Liberation Sans, sans-serif">2</text>
<line x1="293.67" x2="293.67" y1="533.2" y2="535.1" stroke="#222" stroke-width="0.55"/>
<text x="293.67" y="541.3000000000001" font-size="4.95" text-anchor="middle" fill="#1a1a1a" stroke="#1a1a1a" stroke-width="0.08" font-family="DejaVu Sans, Liberation Sans, sans-serif">3</text>
<line x1="301.23" x2="301.23" y1="533.2" y2="535.1" stroke="#222" stroke-width="0.55"/>
<text x="301.23" y="541.3000000000001" font-size="4.95" text-anchor="middle" fill="#1a1a1a" stroke="#1a1a1a" stroke-width="0.08" font-family="DejaVu Sans, Liberation Sans, sans-serif">4</text>
<line x1="308.79" x2="308.79" y1="533.2" y2="535.1" stroke="#222" stroke-width="0.55"/>
<text x="308.79" y="541.3000000000001" font-size="4.95" text-anchor="middle" fill="#1a1a1a" stroke="#1a1a1a" stroke-width="0.08" font-family="DejaVu Sans, Liberation Sans, sans-serif">5</text>
<line x1="316.34" x2="316.34" y1="533.2" y2="535.1" stroke="#222" stroke-width="0.55"/>
<text x="316.34" y="541.3000000000001" font-size="4.95" text-anchor="middle" fill="#1a1a1a" stroke="#1a1a1a" stroke-width="0.08" font-family="DejaVu Sans, Liberation Sans, sans-serif">6</text>
<line x1="323.90" x2="323.90" y1="533.2" y2="535.1" stroke="#222" stroke-width="0.55"/>
<text x="323.90" y="541.3000000000001" font-size="4.95" text-anchor="middle" fill="#1a1a1a" stroke="#1a1a1a" stroke-width="0.08" font-family="DejaVu Sans, Liberation Sans, sans-serif">7</text>
<line x1="331.46" x2="331.46" y1="533.2" y2="535.1" stroke="#222" stroke-width="0.55"/>
<text x="331.46" y="541.3000000000001" font-size="4.95" text-anchor="middle" fill="#1a1a1a" stroke="#1a1a1a" stroke-width="0.08" font-family="DejaVu Sans, Liberation Sans, sans-serif">8</text>
<line x1="339.01" x2="339.01" y1="533.2" y2="535.1" stroke="#222" stroke-width="0.55"/>
<text x="339.01" y="541.3000000000001" font-size="4.95" text-anchor="middle" fill="#1a1a1a" stroke="#1a1a1a" stroke-width="0.08" font-family="DejaVu Sans, Liberation Sans, sans-serif">9</text>
<line x1="346.57" x2="346.57" y1="533.2" y2="535.1" stroke="#222" stroke-width="0.55"/>
<text x="346.57" y="541.3000000000001" font-size="4.95" text-anchor="middle" fill="#1a1a1a" stroke="#1a1a1a" stroke-width="0.08" font-family="DejaVu Sans, Liberation Sans, sans-serif">10</text>
<line x1="354.13" x2="354.13" y1="533.2" y2="535.1" stroke="#222" stroke-width="0.55"/>
<text x="354.13" y="541.3000000000001" font-size="4.95" text-anchor="middle" fill="#1a1a1a" stroke="#1a1a1a" stroke-width="0.08" font-family="DejaVu Sans, Liberation Sans, sans-serif">11</text>
<line x1="361.68" x2="361.68" y1="533.2" y2="535.1" stroke="#222" stroke-width="0.55"/>
<text x="361.68" y="541.3000000000001" font-size="4.95" text-anchor="middle" fill="#1a1a1a" stroke="#1a1a1a" stroke-width="0.08" font-family="DejaVu Sans, Liberation Sans, sans-serif">12</text>
<line x1="369.24" x2="369.24" y1="533.2" y2="535.1" stroke="#222" stroke-width="0.55"/>
<text x="369.24" y="541.3000000000001" font-size="4.95" text-anchor="middle" fill="#1a1a1a" stroke="#1a1a1a" stroke-width="0.08" font-family="DejaVu Sans, Liberation Sans, sans-serif">13</text>
<line x1="376.80" x2="376.80" y1="533.2" y2="535.1" stroke="#222" stroke-width="0.55"/>
<text x="376.80" y="541.3000000000001" font-size="4.95" text-anchor="middle" fill="#1a1a1a" stroke="#1a1a1a" stroke-width="0.08" font-family="DejaVu Sans, Liberation Sans, sans-serif">14</text>
<line x1="384.36" x2="384.36" y1="533.2" y2="535.1" stroke="#222" stroke-width="0.55"/>
<text x="384.36" y="541.3000000000001" font-size="4.95" text-anchor="middle" fill="#1a1a1a" stroke="#1a1a1a" stroke-width="0.08" font-family="DejaVu Sans, Liberation Sans, sans-serif">15</text>
<line x1="391.91" x2="391.91" y1="533.2" y2="535.1" stroke="#222" stroke-width="0.55"/>
<text x="391.91" y="541.3000000000001" font-size="4.95" text-anchor="middle" fill="#1a1a1a" stroke="#1a1a1a" stroke-width="0.08" font-family="DejaVu Sans, Liberation Sans, sans-serif">16</text>
<line x1="399.47" x2="399.47" y1="533.2" y2="535.1" stroke="#222" stroke-width="0.55"/>
<text x="399.47" y="541.3000000000001" font-size="4.95" text-anchor="middle" fill="#1a1a1a" stroke="#1a1a1a" stroke-width="0.08" font-family="DejaVu Sans, Liberation Sans, sans-serif">17</text>
<line x1="407.03" x2="407.03" y1="533.2" y2="535.1" stroke="#222" stroke-width="0.55"/>
<text x="407.03" y="541.3000000000001" font-size="4.95" text-anchor="middle" fill="#1a1a1a" stroke="#1a1a1a" stroke-width="0.08" font-family="DejaVu Sans, Liberation Sans, sans-serif">18</text>
<line x1="414.58" x2="414.58" y1="533.2" y2="535.1" stroke="#222" stroke-width="0.55"/>
<text x="414.58" y="541.3000000000001" font-size="4.95" text-anchor="middle" fill="#1a1a1a" stroke="#1a1a1a" stroke-width="0.08" font-family="DejaVu Sans, Liberation Sans, sans-serif">19</text>
<line x1="422.14" x2="422.14" y1="533.2" y2="535.1" stroke="#222" stroke-width="0.55"/>
<text x="422.14" y="541.3000000000001" font-size="4.95" text-anchor="middle" fill="#1a1a1a" stroke="#1a1a1a" stroke-width="0.08" font-family="DejaVu Sans, Liberation Sans, sans-serif">20</text>
<line x1="429.70" x2="429.70" y1="533.2" y2="535.1" stroke="#222" stroke-width="0.55"/>
<text x="429.70" y="541.3000000000001" font-size="4.95" text-anchor="middle" fill="#1a1a1a" stroke="#1a1a1a" stroke-width="0.08" font-family="DejaVu Sans, Liberation Sans, sans-serif">21</text>
<line x1="437.25" x2="437.25" y1="533.2" y2="535.1" stroke="#222" stroke-width="0.55"/>
<text x="437.25" y="541.3000000000001" font-size="4.95" text-anchor="middle" fill="#1a1a1a" stroke="#1a1a1a" stroke-width="0.08" font-family="DejaVu Sans, Liberation Sans, sans-serif">22</text>
<line x1="444.81" x2="444.81" y1="533.2" y2="535.1" stroke="#222" stroke-width="0.55"/>
<text x="444.81" y="541.3000000000001" font-size="4.95" text-anchor="middle" fill="#1a1a1a" stroke="#1a1a1a" stroke-width="0.08" font-family="DejaVu Sans, Liberation Sans, sans-serif">23</text>
<line x1="260.45000000000005" x2="262.35" y1="520.25" y2="520.25" stroke="#222" stroke-width="0.55"/>
<text x="258.65000000000003" y="522.25" font-size="5.1" text-anchor="end" fill="#1a1a1a" stroke="#1a1a1a" stroke-width="0.1" font-family="DejaVu Sans, Liberation Sans, sans-serif">200</text>
<line x1="260.45000000000005" x2="262.35" y1="490.30" y2="490.30" stroke="#222" stroke-width="0.55"/>
<text x="258.65000000000003" y="492.30" font-size="5.1" text-anchor="end" fill="#1a1a1a" stroke="#1a1a1a" stroke-width="0.1" font-family="DejaVu Sans, Liberation Sans, sans-serif">400</text>
<line x1="260.45000000000005" x2="262.35" y1="460.36" y2="460.36" stroke="#222" stroke-width="0.55"/>
<text x="258.65000000000003" y="462.36" font-size="5.1" text-anchor="end" fill="#1a1a1a" stroke="#1a1a1a" stroke-width="0.1" font-family="DejaVu Sans, Liberation Sans, sans-serif">600</text>
<line x1="260.45000000000005" x2="262.35" y1="430.41" y2="430.41" stroke="#222" stroke-width="0.55"/>
<text x="258.65000000000003" y="432.41" font-size="5.1" text-anchor="end" fill="#1a1a1a" stroke="#1a1a1a" stroke-width="0.1" font-family="DejaVu Sans, Liberation Sans, sans-serif">800</text>
<line x1="260.45000000000005" x2="262.35" y1="400.47" y2="400.47" stroke="#222" stroke-width="0.55"/>
<text x="258.65000000000003" y="402.47" font-size="5.1" text-anchor="end" fill="#1a1a1a" stroke="#1a1a1a" stroke-width="0.1" font-family="DejaVu Sans, Liberation Sans, sans-serif">1000</text>
<text x="360.65000000000003" y="377.34999999999997" font-size="6.2" text-anchor="middle" fill="#1a1a1a" stroke="#1a1a1a" stroke-width="0.2" font-family="DejaVu Sans, Liberation Sans, sans-serif">Low-level</text>
<text x="360.05000000000007" y="548.1" font-size="5.1" text-anchor="middle" fill="#1a1a1a" stroke="#1a1a1a" stroke-width="0.1" font-family="DejaVu Sans, Liberation Sans, sans-serif">Hour</text>
<text transform="translate(242.55,457.125) rotate(-90)" font-size="5.1" text-anchor="middle" fill="#1a1a1a" stroke="#1a1a1a" stroke-width="0.1" font-family="DejaVu Sans, Liberation Sans, sans-serif">w</text>
<rect x="413.35" y="381.54999999999995" width="44.5" height="17.3" rx="1" fill="#fff" fill-opacity="0.8" stroke="#ccc" stroke-width="0.4"/>
<line x1="415.35" x2="425.35" y1="386.24999999999994" y2="386.24999999999994" stroke="#008000" stroke-opacity="0.32" stroke-width="0.9"/>
<line x1="415.35" x2="425.35" y1="393.34999999999997" y2="393.34999999999997" stroke="#c43c28" stroke-opacity="0.5" stroke-width="0.9"/>
<text x="429.35" y="387.94999999999993" font-size="5.1" fill="#1a1a1a" stroke="#1a1a1a" stroke-width="0.1" font-family="DejaVu Sans, Liberation Sans, sans-serif">Normal</text>
<text x="429.35" y="395.15" font-size="5.1" fill="#1a1a1a" stroke="#1a1a1a" stroke-width="0.1" font-family="DejaVu Sans, Liberation Sans, sans-serif">Abnormal</text>
</g>
</svg>
</body></html>
